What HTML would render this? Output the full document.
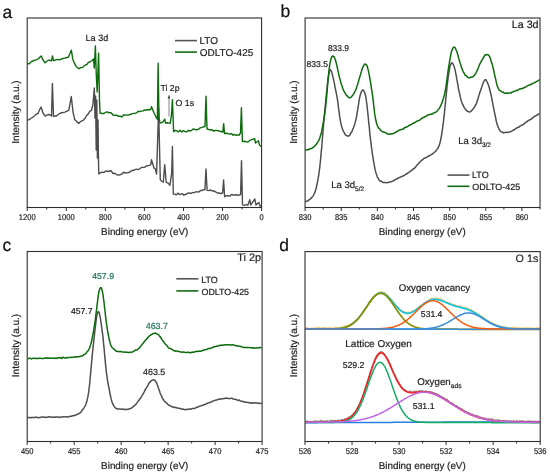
<!DOCTYPE html>
<html><head><meta charset="utf-8"><style>
html,body{margin:0;padding:0;background:#fff;width:550px;height:475px;overflow:hidden;}
svg{will-change:transform;}
svg text{font-family:'Liberation Sans',sans-serif;stroke-width:0.2px;text-rendering:geometricPrecision;}
</style></head><body>
<svg width="550" height="475" viewBox="0 0 550 475" style="position:absolute;left:0;top:0;font-family:'Liberation Sans',sans-serif">
<polyline points="27.5,120.4 29.3,119.3 31.2,118.3 33.0,117.0 34.7,115.7 36.3,114.1 38.0,113.5 39.5,110.0 41.0,107.0 43.0,113.0 45.2,116.2 48.0,114.5 49.8,114.7 51.5,116.0 52.4,83.4 53.5,116.5 55.0,115.9 56.5,116.0 58.0,114.5 59.7,113.5 61.3,112.8 63.0,112.5 64.9,112.1 66.9,111.2 68.8,110.3 71.3,96.5 73.0,112.0 74.7,119.6 76.8,121.6 78.9,123.4 80.4,121.6 82.0,120.9 83.5,120.1 85.0,118.5 86.6,115.6 88.2,114.1 89.9,111.2 91.5,110.3 93.0,104.0 94.3,88.0 95.0,118.0 95.6,96.0 96.2,150.0 96.8,100.0 97.4,158.0 98.0,120.0 98.5,162.0 98.8,174.0 99.8,173.2 101.9,172.1 104.0,172.5 106.0,170.9 108.0,171.5 109.5,171.0 111.0,170.7 113.0,173.5 114.9,173.2 116.8,174.7 118.7,175.0 120.3,174.7 121.9,174.0 123.5,172.2 125.2,173.0 126.8,172.8 128.4,172.5 130.0,172.0 131.7,170.5 133.3,170.5 135.0,169.7 136.7,169.2 138.3,169.7 140.0,168.5 141.5,167.5 143.1,167.4 144.6,167.4 146.1,166.0 147.6,165.8 149.2,165.4 150.7,164.8 151.5,159.8 154.0,168.0 155.0,168.3 156.6,174.0 158.6,108.0 160.3,180.0 161.8,181.2 163.3,182.3 164.7,164.6 166.2,182.3 168.1,183.1 169.9,185.3 171.7,172.7 172.4,146.5 173.3,194.1 174.8,194.1 176.3,194.9 177.8,193.1 179.3,194.6 180.8,194.1 182.3,193.6 183.8,195.2 185.3,194.5 186.8,194.0 188.3,192.9 189.8,193.3 191.3,193.3 192.8,192.5 194.3,192.6 195.9,191.8 197.4,191.9 198.9,192.0 200.4,190.4 201.9,190.5 203.4,189.8 204.9,189.7 206.0,169.0 207.1,190.4 208.7,190.6 210.4,190.0 212.0,190.8 213.8,191.0 215.6,191.8 217.4,193.0 219.2,193.0 220.9,193.7 222.6,193.0 223.6,180.0 224.6,196.7 226.3,195.6 228.1,195.7 229.8,196.2 231.5,194.4 233.3,195.0 235.0,195.0 236.9,194.8 238.7,195.4 240.6,194.5 241.5,160.6 242.5,204.8 244.3,205.3 246.2,204.7 248.0,205.0 249.8,199.7 250.8,205.0 252.8,201.8 254.8,199.0 256.0,205.0 257.5,203.6 259.0,202.6 260.0,206.0 261.5,206.0" fill="none" stroke="#4d4d4d" stroke-width="1.4" stroke-linejoin="round"/>
<polyline points="27.5,63.7 29.3,63.7 31.2,61.6 33.0,61.0 34.7,60.2 36.3,59.9 38.0,59.0 39.6,57.4 41.3,56.0 43.0,60.0 45.0,62.8 46.5,61.5 48.0,60.5 49.8,60.1 51.5,61.0 52.4,56.0 53.5,60.5 55.0,60.2 56.5,59.6 58.0,59.5 59.7,59.9 61.3,59.2 63.0,58.5 64.6,58.1 66.2,57.8 68.5,57.0 71.3,50.2 73.0,60.0 75.5,65.4 77.2,67.5 78.9,68.7 80.6,67.6 82.3,67.5 84.0,66.0 85.5,65.0 87.0,64.4 88.5,62.2 90.0,62.0 92.3,60.3 93.5,59.0 94.3,68.0 95.4,45.9 96.3,75.0 97.2,92.0 98.6,53.3 99.5,100.0 100.0,113.0 102.0,113.5 104.0,113.5 105.7,112.3 107.3,111.8 109.0,112.8 111.0,112.6 113.0,115.0 114.9,115.3 116.8,115.3 118.7,116.3 120.3,116.1 121.9,117.1 123.5,115.0 125.2,114.9 126.8,115.1 128.4,115.1 130.0,114.5 131.7,113.9 133.3,113.4 135.0,113.4 136.7,112.8 138.3,111.4 140.0,111.5 141.5,111.1 143.1,110.9 144.6,109.9 146.1,110.4 147.6,109.4 149.2,110.2 150.7,109.3 151.5,106.7 154.0,113.0 155.7,116.3 157.4,119.4 158.1,63.1 159.0,118.0 160.0,123.2 161.5,122.7 163.0,122.0 164.8,119.0 165.5,123.0 167.1,122.7 168.6,123.1 170.2,123.2 171.5,115.0 172.4,99.6 173.6,131.6 175.2,130.4 176.9,130.9 178.5,131.8 180.1,130.3 181.7,132.1 183.4,130.6 185.0,131.6 186.7,131.7 188.3,130.4 190.0,131.0 191.7,130.3 193.3,128.9 195.0,129.5 196.8,129.7 198.5,129.3 200.2,127.9 202.0,127.4 203.5,126.8 205.0,126.5 206.0,96.3 207.0,129.0 208.5,129.4 210.0,130.0 211.7,129.6 213.3,131.0 215.0,130.5 217.0,130.4 219.0,131.0 220.9,131.5 222.8,132.0 223.7,123.6 224.5,133.5 226.3,133.3 228.2,133.6 230.0,134.2 231.5,133.6 233.1,135.2 234.6,134.5 236.1,135.3 237.7,134.9 239.2,135.0 240.5,133.0 241.4,107.7 242.4,141.6 244.3,141.3 246.1,141.7 248.0,142.0 249.8,140.5 251.4,139.5 253.1,139.2 254.7,138.6 255.5,143.0 258.4,140.8 259.5,145.0 261.5,146.7" fill="none" stroke="#0c6c0c" stroke-width="1.4" stroke-linejoin="round"/>
<rect x="27.2" y="18.0" width="234.40000000000003" height="189.5" fill="none" stroke="#2e2e2e" stroke-width="1.1"/>
<line x1="27.20" y1="207.5" x2="27.20" y2="211.0" stroke="#2e2e2e" stroke-width="1.0"/>
<text x="27.20" y="219.9" font-size="8.4" text-anchor="middle" fill="#222" stroke="#222" textLength="16.82" lengthAdjust="spacingAndGlyphs">1200</text>
<line x1="46.73" y1="207.5" x2="46.73" y2="209.5" stroke="#2e2e2e" stroke-width="1.0"/>
<line x1="66.27" y1="207.5" x2="66.27" y2="211.0" stroke="#2e2e2e" stroke-width="1.0"/>
<text x="66.27" y="219.9" font-size="8.4" text-anchor="middle" fill="#222" stroke="#222" textLength="16.82" lengthAdjust="spacingAndGlyphs">1000</text>
<line x1="85.80" y1="207.5" x2="85.80" y2="209.5" stroke="#2e2e2e" stroke-width="1.0"/>
<line x1="105.33" y1="207.5" x2="105.33" y2="211.0" stroke="#2e2e2e" stroke-width="1.0"/>
<text x="105.33" y="219.9" font-size="8.4" text-anchor="middle" fill="#222" stroke="#222" textLength="12.61" lengthAdjust="spacingAndGlyphs">800</text>
<line x1="124.87" y1="207.5" x2="124.87" y2="209.5" stroke="#2e2e2e" stroke-width="1.0"/>
<line x1="144.40" y1="207.5" x2="144.40" y2="211.0" stroke="#2e2e2e" stroke-width="1.0"/>
<text x="144.40" y="219.9" font-size="8.4" text-anchor="middle" fill="#222" stroke="#222" textLength="12.61" lengthAdjust="spacingAndGlyphs">600</text>
<line x1="163.93" y1="207.5" x2="163.93" y2="209.5" stroke="#2e2e2e" stroke-width="1.0"/>
<line x1="183.47" y1="207.5" x2="183.47" y2="211.0" stroke="#2e2e2e" stroke-width="1.0"/>
<text x="183.47" y="219.9" font-size="8.4" text-anchor="middle" fill="#222" stroke="#222" textLength="12.61" lengthAdjust="spacingAndGlyphs">400</text>
<line x1="203.00" y1="207.5" x2="203.00" y2="209.5" stroke="#2e2e2e" stroke-width="1.0"/>
<line x1="222.53" y1="207.5" x2="222.53" y2="211.0" stroke="#2e2e2e" stroke-width="1.0"/>
<text x="222.53" y="219.9" font-size="8.4" text-anchor="middle" fill="#222" stroke="#222" textLength="12.61" lengthAdjust="spacingAndGlyphs">200</text>
<line x1="242.07" y1="207.5" x2="242.07" y2="209.5" stroke="#2e2e2e" stroke-width="1.0"/>
<line x1="261.60" y1="207.5" x2="261.60" y2="211.0" stroke="#2e2e2e" stroke-width="1.0"/>
<text x="261.60" y="219.9" font-size="8.4" text-anchor="middle" fill="#222" stroke="#222" textLength="4.21" lengthAdjust="spacingAndGlyphs">0</text>
<text x="101.11" y="235.0" font-size="9.87" fill="#222" stroke="#222">Binding energy (eV)</text>
<text transform="translate(18.8,112) rotate(-90)" font-size="10" text-anchor="middle" fill="#222" stroke="#222">Intensity (a.u.)</text>
<text x="2.51" y="17.5" font-size="17.50" fill="#111" stroke="#111">a</text>
<text x="85.57" y="41.2" font-size="9.07" fill="#222" stroke="#222">La 3d</text>
<text x="160.48" y="91.2" font-size="8.73" fill="#222" stroke="#222">Ti 2p</text>
<text x="175.50" y="105.5" font-size="8.82" fill="#222" stroke="#222">O 1s</text>
<line x1="169" y1="97" x2="169" y2="116.5" stroke="#666" stroke-width="0.8"/>
<path d="M167.6,98.5 L169,94.5 L170.4,98.5 Z" fill="#444"/>
<line x1="175" y1="40.6" x2="197" y2="40.6" stroke="#555" stroke-width="1.6"/>
<line x1="175" y1="52.1" x2="197" y2="52.1" stroke="#136b13" stroke-width="1.6"/>
<text x="199.50" y="43.9" font-size="10.00" fill="#222" stroke="#222">LTO</text>
<text x="199.85" y="56.2" font-size="9.97" fill="#222" stroke="#222">ODLTO-425</text>
<polyline points="305.6,201.6 305.9,201.4 306.3,201.3 306.6,201.3 306.9,201.3 307.3,201.1 307.6,200.9 307.9,200.8 308.3,200.6 308.6,200.2 308.9,199.9 309.3,199.6 309.6,199.4 310.0,199.3 310.3,199.1 310.6,198.8 311.0,198.4 311.3,198.1 311.6,197.7 312.0,197.2 312.3,196.8 312.6,196.4 313.0,196.0 313.3,195.6 313.6,195.0 314.0,194.3 314.3,193.5 314.6,192.8 315.0,191.9 315.3,191.0 315.6,189.9 316.0,188.8 316.3,187.6 316.6,186.2 317.0,184.6 317.3,182.8 317.6,181.1 318.0,179.4 318.3,177.5 318.7,175.3 319.0,173.0 319.3,170.5 319.7,167.8 320.0,164.9 320.3,161.8 320.7,158.5 321.0,154.9 321.3,151.3 321.7,147.6 322.0,143.7 322.3,139.7 322.7,135.4 323.0,131.0 323.3,126.9 323.7,123.1 324.0,119.4 324.3,115.8 324.7,112.2 325.0,108.5 325.3,105.0 325.7,101.8 326.0,98.5 326.3,95.1 326.7,91.7 327.0,88.2 327.4,85.0 327.7,82.0 328.0,79.2 328.4,76.9 328.7,74.9 329.0,73.3 329.4,71.9 329.7,70.8 330.0,70.1 330.4,69.8 330.7,69.9 331.0,70.4 331.4,71.1 331.7,72.1 332.0,73.3 332.4,74.5 332.7,75.8 333.0,77.2 333.4,78.7 333.7,80.1 334.0,81.7 334.4,83.5 334.7,85.3 335.0,87.1 335.4,88.7 335.7,90.5 336.1,92.2 336.4,93.7 336.7,95.3 337.1,97.1 337.4,99.1 337.7,101.4 338.1,104.1 338.4,106.9 338.7,109.5 339.1,111.9 339.4,114.4 339.7,116.9 340.1,119.0 340.4,120.9 340.7,122.5 341.1,124.1 341.4,125.6 341.7,126.8 342.1,127.8 342.4,128.7 342.7,129.6 343.1,130.5 343.4,131.2 343.7,131.8 344.1,132.4 344.4,133.0 344.8,133.6 345.1,134.3 345.4,134.8 345.8,135.1 346.1,135.4 346.4,135.5 346.8,135.6 347.1,135.9 347.4,136.1 347.8,136.1 348.1,136.0 348.4,136.0 348.8,135.9 349.1,135.8 349.4,135.5 349.8,135.1 350.1,134.6 350.4,133.9 350.8,133.2 351.1,132.7 351.4,132.3 351.8,131.8 352.1,131.1 352.4,130.3 352.8,129.4 353.1,128.6 353.5,127.7 353.8,126.8 354.1,126.0 354.5,125.0 354.8,123.9 355.1,122.6 355.5,121.2 355.8,119.9 356.1,118.6 356.5,117.0 356.8,115.1 357.1,113.1 357.5,111.0 357.8,109.0 358.1,106.9 358.5,104.7 358.8,102.6 359.1,100.6 359.5,98.7 359.8,96.9 360.1,95.5 360.5,94.3 360.8,93.3 361.1,92.4 361.5,91.7 361.8,91.1 362.2,90.5 362.5,90.1 362.8,90.0 363.2,90.0 363.5,90.3 363.8,90.8 364.2,91.5 364.5,92.1 364.8,92.9 365.2,94.0 365.5,95.4 365.8,97.0 366.2,99.1 366.5,101.5 366.8,104.1 367.2,107.0 367.5,110.0 367.8,113.2 368.2,116.5 368.5,119.9 368.8,123.2 369.2,126.4 369.5,129.8 369.8,133.3 370.2,136.6 370.5,139.6 370.9,142.2 371.2,144.8 371.5,147.4 371.9,150.0 372.2,152.4 372.5,154.6 372.9,156.8 373.2,158.8 373.5,160.8 373.9,162.8 374.2,164.7 374.5,166.6 374.9,168.4 375.2,169.9 375.5,171.2 375.9,172.4 376.2,173.5 376.5,174.5 376.9,175.6 377.2,176.7 377.5,177.5 377.9,178.0 378.2,178.4 378.5,178.9 378.9,179.6 379.2,180.2 379.6,180.7 379.9,180.8 380.2,180.8 380.6,180.9 380.9,181.2 381.2,181.4 381.6,181.5 381.9,181.7 382.2,181.9 382.6,182.3 382.9,182.5 383.2,182.5 383.6,182.5 383.9,182.5 384.2,182.5 384.6,182.5 384.9,182.4 385.2,182.4 385.6,182.5 385.9,182.7 386.2,182.8 386.6,182.8 386.9,182.7 387.2,182.5 387.6,182.4 387.9,182.5 388.3,182.5 388.6,182.5 388.9,182.4 389.3,182.2 389.6,182.0 389.9,181.9 390.3,181.9 390.6,181.8 390.9,181.7 391.3,181.7 391.6,181.7 391.9,181.5 392.3,181.2 392.6,181.0 392.9,180.9 393.3,180.9 393.6,180.8 393.9,180.6 394.3,180.2 394.6,179.9 394.9,179.7 395.3,179.6 395.6,179.5 395.9,179.4 396.3,179.3 396.6,179.0 397.0,178.8 397.3,178.5 397.6,178.4 398.0,178.3 398.3,178.1 398.6,177.9 399.0,177.7 399.3,177.5 399.6,177.4 400.0,177.4 400.3,177.2 400.6,177.0 401.0,176.8 401.3,176.6 401.6,176.5 402.0,176.5 402.3,176.4 402.6,176.3 403.0,176.0 403.3,175.8 403.6,175.6 404.0,175.4 404.3,175.3 404.6,175.1 405.0,174.9 405.3,174.7 405.7,174.4 406.0,174.2 406.3,174.1 406.7,174.0 407.0,173.6 407.3,173.3 407.7,173.1 408.0,172.9 408.3,172.6 408.7,172.4 409.0,172.3 409.3,172.1 409.7,171.8 410.0,171.5 410.3,171.2 410.7,171.1 411.0,170.9 411.3,170.7 411.7,170.5 412.0,170.2 412.3,170.0 412.7,169.6 413.0,169.2 413.3,168.8 413.7,168.6 414.0,168.5 414.4,168.3 414.7,167.9 415.0,167.6 415.4,167.2 415.7,166.9 416.0,166.5 416.4,165.9 416.7,165.3 417.0,164.9 417.4,164.7 417.7,164.5 418.0,164.2 418.4,163.7 418.7,163.2 419.0,162.9 419.4,162.6 419.7,162.1 420.0,161.8 420.4,161.6 420.7,161.3 421.0,160.9 421.4,160.5 421.7,160.1 422.0,160.0 422.4,159.9 422.7,159.7 423.1,159.2 423.4,158.8 423.7,158.5 424.1,158.4 424.4,158.3 424.7,158.1 425.1,157.9 425.4,157.7 425.7,157.6 426.1,157.6 426.4,157.6 426.7,157.4 427.1,157.0 427.4,156.7 427.7,156.5 428.1,156.3 428.4,156.1 428.7,155.9 429.1,155.8 429.4,155.8 429.7,155.6 430.1,155.4 430.4,155.2 430.7,154.9 431.1,154.7 431.4,154.5 431.8,154.4 432.1,154.2 432.4,153.9 432.8,153.6 433.1,153.3 433.4,153.1 433.8,152.8 434.1,152.5 434.4,152.2 434.8,152.0 435.1,151.8 435.4,151.5 435.8,151.1 436.1,150.7 436.4,150.2 436.8,149.8 437.1,149.4 437.4,148.9 437.8,148.4 438.1,147.8 438.4,147.2 438.8,146.4 439.1,145.5 439.4,144.5 439.8,143.4 440.1,142.2 440.5,140.8 440.8,139.3 441.1,137.5 441.5,135.6 441.8,133.6 442.1,131.5 442.5,129.1 442.8,126.6 443.1,123.9 443.5,121.4 443.8,118.7 444.1,115.8 444.5,112.6 444.8,109.3 445.1,106.1 445.5,102.7 445.8,99.1 446.1,95.7 446.5,92.2 446.8,88.9 447.1,85.8 447.5,82.9 447.8,80.1 448.1,77.6 448.5,75.4 448.8,73.2 449.2,71.0 449.5,69.0 449.8,67.3 450.2,66.0 450.5,65.0 450.8,64.2 451.2,63.5 451.5,63.0 451.8,62.8 452.2,62.8 452.5,63.2 452.8,63.7 453.2,64.3 453.5,65.0 453.8,65.7 454.2,66.6 454.5,67.6 454.8,68.9 455.2,70.4 455.5,72.1 455.8,73.7 456.2,75.4 456.5,77.3 456.8,79.2 457.2,81.1 457.5,83.0 457.9,85.1 458.2,87.1 458.5,88.8 458.9,90.4 459.2,92.0 459.5,93.4 459.9,94.8 460.2,96.3 460.5,97.9 460.9,99.3 461.2,100.6 461.5,101.6 461.9,102.4 462.2,103.2 462.5,103.9 462.9,104.6 463.2,105.4 463.5,106.2 463.9,106.8 464.2,107.3 464.5,107.8 464.9,108.4 465.2,108.9 465.5,109.4 465.9,109.8 466.2,110.1 466.6,110.4 466.9,110.8 467.2,111.2 467.6,111.4 467.9,111.4 468.2,111.5 468.6,111.7 468.9,111.8 469.2,111.8 469.6,112.0 469.9,112.0 470.2,111.8 470.6,111.6 470.9,111.4 471.2,111.2 471.6,110.8 471.9,110.3 472.2,109.9 472.6,109.6 472.9,109.2 473.2,108.8 473.6,108.3 473.9,107.8 474.2,107.3 474.6,106.8 474.9,106.3 475.3,105.6 475.6,105.0 475.9,104.5 476.3,103.9 476.6,103.0 476.9,101.9 477.3,100.9 477.6,99.8 477.9,98.7 478.3,97.5 478.6,96.5 478.9,95.5 479.3,94.3 479.6,93.2 479.9,92.2 480.3,91.4 480.6,90.5 480.9,89.5 481.3,88.6 481.6,87.6 481.9,86.5 482.3,85.5 482.6,84.4 482.9,83.4 483.3,82.7 483.6,82.0 484.0,81.3 484.3,80.6 484.6,80.2 485.0,79.9 485.3,79.7 485.6,79.6 486.0,79.8 486.3,80.4 486.6,81.1 487.0,81.7 487.3,82.3 487.6,83.1 488.0,83.9 488.3,84.7 488.6,85.6 489.0,86.7 489.3,87.8 489.6,89.0 490.0,90.3 490.3,91.8 490.6,93.3 491.0,94.7 491.3,96.1 491.6,97.6 492.0,99.4 492.3,101.3 492.7,103.2 493.0,104.9 493.3,106.5 493.7,108.1 494.0,109.9 494.3,111.6 494.7,113.2 495.0,114.8 495.3,116.3 495.7,118.0 496.0,119.7 496.3,121.4 496.7,122.9 497.0,124.1 497.3,125.0 497.7,125.7 498.0,126.5 498.3,127.4 498.7,128.2 499.0,128.9 499.3,129.5 499.7,130.0 500.0,130.6 500.3,131.1 500.7,131.5 501.0,131.7 501.4,131.9 501.7,132.0 502.0,132.0 502.4,132.1 502.7,132.4 503.0,132.8 503.4,132.9 503.7,132.8 504.0,132.7 504.4,132.6 504.7,132.5 505.0,132.5 505.4,132.4 505.7,132.4 506.0,132.3 506.4,132.3 506.7,132.2 507.0,132.2 507.4,132.4 507.7,132.5 508.0,132.4 508.4,132.3 508.7,132.2 509.0,132.0 509.4,131.9 509.7,131.8 510.1,131.8 510.4,131.7 510.7,131.6 511.1,131.4 511.4,131.2 511.7,131.0 512.1,130.8 512.4,130.6 512.7,130.3 513.1,130.1 513.4,130.0 513.7,130.0 514.1,129.9 514.4,129.7 514.7,129.4 515.1,129.1 515.4,128.9 515.7,128.7 516.1,128.5 516.4,128.2 516.7,127.9 517.1,127.7 517.4,127.6 517.7,127.6 518.1,127.6 518.4,127.5 518.8,127.3 519.1,126.9 519.4,126.5 519.8,126.2 520.1,126.0 520.4,125.9 520.8,125.8 521.1,125.5 521.4,125.3 521.8,125.2 522.1,125.1 522.4,124.9 522.8,124.7 523.1,124.5 523.4,124.4 523.8,124.2 524.1,123.9 524.4,123.6 524.8,123.2 525.1,122.9 525.4,122.6 525.8,122.5 526.1,122.3 526.4,122.1 526.8,121.9 527.1,121.6 527.5,121.2 527.8,120.9 528.1,120.7 528.5,120.6 528.8,120.4 529.1,120.2 529.5,120.0 529.8,119.8 530.1,119.7 530.5,119.6 530.8,119.5 531.1,119.3 531.5,118.9 531.8,118.5 532.1,118.2 532.5,118.0 532.8,117.8 533.1,117.5 533.5,117.3 533.8,117.0 534.1,116.7 534.5,116.4 534.8,116.1 535.1,116.0 535.5,115.9 535.8,115.8 536.2,115.6 536.5,115.3 536.8,115.2 537.2,115.1 537.5,115.0 537.8,114.7 538.2,114.4 538.5,114.2 538.8,113.9 539.2,113.7 539.5,113.5" fill="none" stroke="#4d4d4d" stroke-width="1.5" stroke-linejoin="round"/>
<polyline points="305.6,150.3 305.9,150.1 306.3,150.0 306.6,149.9 306.9,149.8 307.3,149.7 307.6,149.8 307.9,149.8 308.3,149.7 308.6,149.4 308.9,149.3 309.3,149.3 309.6,149.1 310.0,148.8 310.3,148.6 310.6,148.5 311.0,148.5 311.3,148.5 311.6,148.5 312.0,148.3 312.3,148.0 312.6,147.7 313.0,147.6 313.3,147.5 313.6,147.2 314.0,146.8 314.3,146.4 314.6,146.1 315.0,145.6 315.3,145.3 315.6,145.0 316.0,144.6 316.3,144.2 316.6,143.7 317.0,143.3 317.3,142.8 317.6,142.3 318.0,141.7 318.3,141.2 318.7,140.6 319.0,139.9 319.3,139.1 319.7,138.2 320.0,137.2 320.3,136.1 320.7,135.1 321.0,134.1 321.3,132.9 321.7,131.4 322.0,129.7 322.3,127.9 322.7,126.1 323.0,124.3 323.3,122.4 323.7,120.4 324.0,118.4 324.3,116.3 324.7,114.1 325.0,111.7 325.3,109.1 325.7,106.3 326.0,103.3 326.3,99.9 326.7,96.1 327.0,91.9 327.4,87.8 327.7,83.9 328.0,80.1 328.4,76.4 328.7,73.1 329.0,70.1 329.4,67.4 329.7,65.0 330.0,63.0 330.4,61.4 330.7,59.9 331.0,58.7 331.4,57.7 331.7,57.0 332.0,56.5 332.4,56.2 332.7,55.9 333.0,56.0 333.4,56.3 333.7,56.6 334.0,56.9 334.4,57.5 334.7,58.1 335.0,59.0 335.4,59.9 335.7,61.0 336.1,62.2 336.4,63.6 336.7,65.0 337.1,66.5 337.4,68.0 337.7,69.5 338.1,71.2 338.4,72.7 338.7,74.2 339.1,75.7 339.4,77.1 339.7,78.4 340.1,79.5 340.4,80.7 340.7,82.0 341.1,83.3 341.4,84.2 341.7,85.0 342.1,86.0 342.4,87.1 342.7,88.2 343.1,89.1 343.4,89.9 343.7,90.7 344.1,91.4 344.4,92.1 344.8,92.6 345.1,93.1 345.4,93.7 345.8,94.3 346.1,94.8 346.4,95.3 346.8,95.6 347.1,95.9 347.4,96.2 347.8,96.4 348.1,96.8 348.4,97.2 348.8,97.6 349.1,97.8 349.4,97.8 349.8,97.8 350.1,97.7 350.4,97.6 350.8,97.5 351.1,97.2 351.4,96.8 351.8,96.4 352.1,96.0 352.4,95.6 352.8,95.2 353.1,94.7 353.5,94.2 353.8,93.6 354.1,93.0 354.5,92.4 354.8,91.8 355.1,91.2 355.5,90.5 355.8,89.8 356.1,88.9 356.5,87.8 356.8,86.7 357.1,85.7 357.5,84.8 357.8,83.8 358.1,82.7 358.5,81.5 358.8,80.2 359.1,79.1 359.5,78.0 359.8,76.9 360.1,75.8 360.5,74.7 360.8,73.6 361.1,72.4 361.5,71.2 361.8,69.9 362.2,68.9 362.5,67.9 362.8,67.3 363.2,66.6 363.5,65.9 363.8,65.2 364.2,64.7 364.5,64.3 364.8,64.1 365.2,64.1 365.5,64.2 365.8,64.4 366.2,64.6 366.5,64.8 366.8,65.4 367.2,66.2 367.5,67.3 367.8,68.5 368.2,69.9 368.5,71.3 368.8,72.9 369.2,74.7 369.5,76.6 369.8,78.5 370.2,80.4 370.5,82.3 370.9,84.5 371.2,86.8 371.5,89.1 371.9,91.1 372.2,93.0 372.5,95.3 372.9,97.9 373.2,100.6 373.5,103.5 373.9,106.5 374.2,109.7 374.5,112.5 374.9,115.0 375.2,117.0 375.5,118.8 375.9,120.4 376.2,121.8 376.5,123.0 376.9,124.1 377.2,125.2 377.5,126.0 377.9,126.6 378.2,127.1 378.5,127.7 378.9,128.2 379.2,128.6 379.6,128.9 379.9,129.3 380.2,129.8 380.6,130.1 380.9,130.3 381.2,130.6 381.6,131.0 381.9,131.3 382.2,131.6 382.6,131.7 382.9,131.9 383.2,131.9 383.6,131.9 383.9,132.0 384.2,132.1 384.6,132.3 384.9,132.4 385.2,132.5 385.6,132.7 385.9,132.9 386.2,133.2 386.6,133.4 386.9,133.7 387.2,133.8 387.6,133.8 387.9,134.0 388.3,134.3 388.6,134.3 388.9,134.2 389.3,134.1 389.6,134.1 389.9,134.1 390.3,134.1 390.6,134.2 390.9,134.1 391.3,133.9 391.6,133.8 391.9,133.7 392.3,133.7 392.6,133.7 392.9,133.8 393.3,133.7 393.6,133.5 393.9,133.3 394.3,133.1 394.6,132.9 394.9,132.7 395.3,132.6 395.6,132.4 395.9,132.3 396.3,132.1 396.6,131.7 397.0,131.5 397.3,131.3 397.6,131.2 398.0,131.1 398.3,130.9 398.6,130.5 399.0,130.1 399.3,129.9 399.6,129.9 400.0,130.0 400.3,130.0 400.6,129.8 401.0,129.5 401.3,129.4 401.6,129.4 402.0,129.3 402.3,129.2 402.6,129.2 403.0,129.2 403.3,128.9 403.6,128.6 404.0,128.3 404.3,128.1 404.6,127.7 405.0,127.5 405.3,127.3 405.7,127.2 406.0,127.2 406.3,127.2 406.7,127.1 407.0,126.8 407.3,126.5 407.7,126.4 408.0,126.3 408.3,126.1 408.7,125.8 409.0,125.4 409.3,125.2 409.7,125.1 410.0,125.1 410.3,124.9 410.7,124.7 411.0,124.5 411.3,124.5 411.7,124.3 412.0,124.0 412.3,123.7 412.7,123.5 413.0,123.4 413.3,123.3 413.7,123.0 414.0,122.9 414.4,122.8 414.7,122.6 415.0,122.4 415.4,122.2 415.7,122.0 416.0,121.7 416.4,121.5 416.7,121.3 417.0,121.1 417.4,121.0 417.7,121.0 418.0,120.9 418.4,120.7 418.7,120.5 419.0,120.4 419.4,120.3 419.7,120.1 420.0,119.8 420.4,119.5 420.7,119.2 421.0,118.9 421.4,118.6 421.7,118.4 422.0,118.2 422.4,117.9 422.7,117.6 423.1,117.5 423.4,117.5 423.7,117.5 424.1,117.4 424.4,117.1 424.7,116.8 425.1,116.5 425.4,116.4 425.7,116.4 426.1,116.3 426.4,116.1 426.7,115.8 427.1,115.3 427.4,115.1 427.7,114.9 428.1,115.0 428.4,115.0 428.7,114.9 429.1,114.7 429.4,114.7 429.7,114.6 430.1,114.4 430.4,114.2 430.7,114.1 431.1,114.1 431.4,114.2 431.8,114.2 432.1,114.1 432.4,114.0 432.8,113.8 433.1,113.4 433.4,113.1 433.8,112.9 434.1,112.8 434.4,112.7 434.8,112.6 435.1,112.4 435.4,112.2 435.8,112.1 436.1,112.0 436.4,111.8 436.8,111.5 437.1,111.2 437.4,110.6 437.8,110.1 438.1,109.6 438.4,109.3 438.8,109.0 439.1,108.6 439.4,108.1 439.8,107.4 440.1,106.8 440.5,106.2 440.8,105.4 441.1,104.6 441.5,103.9 441.8,103.1 442.1,102.3 442.5,101.4 442.8,100.3 443.1,99.3 443.5,98.3 443.8,97.1 444.1,95.8 444.5,94.5 444.8,93.1 445.1,91.5 445.5,89.7 445.8,87.6 446.1,85.4 446.5,83.0 446.8,80.7 447.1,78.3 447.5,75.7 447.8,73.1 448.1,70.5 448.5,68.1 448.8,65.9 449.2,63.9 449.5,61.9 449.8,60.0 450.2,58.2 450.5,56.4 450.8,54.6 451.2,52.9 451.5,51.5 451.8,50.5 452.2,49.6 452.5,48.9 452.8,48.3 453.2,47.8 453.5,47.5 453.8,47.2 454.2,47.1 454.5,47.2 454.8,47.5 455.2,47.9 455.5,48.5 455.8,49.3 456.2,50.0 456.5,50.8 456.8,51.6 457.2,52.7 457.5,53.9 457.9,55.1 458.2,56.3 458.5,57.4 458.9,58.6 459.2,59.9 459.5,61.1 459.9,62.2 460.2,63.2 460.5,64.1 460.9,65.2 461.2,66.4 461.5,67.6 461.9,68.4 462.2,69.2 462.5,70.0 462.9,71.0 463.2,71.8 463.5,72.3 463.9,72.7 464.2,73.3 464.5,74.0 464.9,74.8 465.2,75.2 465.5,75.5 465.9,75.7 466.2,75.9 466.6,76.2 466.9,76.5 467.2,76.8 467.6,77.2 467.9,77.5 468.2,77.7 468.6,77.7 468.9,77.6 469.2,77.6 469.6,77.7 469.9,77.6 470.2,77.5 470.6,77.4 470.9,77.3 471.2,77.1 471.6,76.9 471.9,76.9 472.2,77.0 472.6,77.0 472.9,76.7 473.2,76.3 473.6,76.0 473.9,75.7 474.2,75.4 474.6,75.1 474.9,74.7 475.3,74.1 475.6,73.4 475.9,72.9 476.3,72.3 476.6,71.6 476.9,70.8 477.3,70.1 477.6,69.4 477.9,68.7 478.3,67.8 478.6,67.0 478.9,66.1 479.3,65.2 479.6,64.5 479.9,63.8 480.3,63.0 480.6,62.3 480.9,61.8 481.3,61.4 481.6,60.8 481.9,60.2 482.3,59.6 482.6,59.0 482.9,58.5 483.3,58.0 483.6,57.4 484.0,56.7 484.3,56.0 484.6,55.5 485.0,55.1 485.3,54.8 485.6,54.9 486.0,54.8 486.3,54.6 486.6,54.5 487.0,54.6 487.3,54.8 487.6,54.8 488.0,54.8 488.3,54.9 488.6,55.2 489.0,55.5 489.3,56.1 489.6,56.9 490.0,57.6 490.3,58.5 490.6,59.5 491.0,60.6 491.3,61.6 491.6,62.6 492.0,63.6 492.3,64.8 492.7,66.1 493.0,67.5 493.3,68.8 493.7,70.2 494.0,71.8 494.3,73.5 494.7,75.1 495.0,76.5 495.3,77.8 495.7,79.2 496.0,80.6 496.3,82.1 496.7,83.8 497.0,85.1 497.3,86.1 497.7,86.9 498.0,87.7 498.3,88.5 498.7,89.2 499.0,89.8 499.3,90.2 499.7,90.5 500.0,90.7 500.3,90.9 500.7,91.0 501.0,91.2 501.4,91.4 501.7,91.7 502.0,91.9 502.4,92.1 502.7,92.2 503.0,92.2 503.4,92.3 503.7,92.6 504.0,92.9 504.4,93.2 504.7,93.2 505.0,93.2 505.4,93.2 505.7,93.2 506.0,93.1 506.4,93.1 506.7,93.1 507.0,93.4 507.4,93.5 507.7,93.3 508.0,93.2 508.4,93.1 508.7,93.0 509.0,92.9 509.4,92.9 509.7,93.0 510.1,93.1 510.4,93.1 510.7,93.0 511.1,92.9 511.4,92.6 511.7,92.2 512.1,92.0 512.4,91.9 512.7,91.9 513.1,91.9 513.4,91.7 513.7,91.5 514.1,91.3 514.4,91.1 514.7,91.0 515.1,91.0 515.4,91.0 515.7,90.8 516.1,90.6 516.4,90.4 516.7,90.3 517.1,90.4 517.4,90.5 517.7,90.5 518.1,90.2 518.4,89.8 518.8,89.5 519.1,89.2 519.4,89.0 519.8,88.9 520.1,88.9 520.4,88.9 520.8,88.8 521.1,88.6 521.4,88.4 521.8,88.4 522.1,88.4 522.4,88.4 522.8,88.4 523.1,88.2 523.4,88.0 523.8,87.8 524.1,87.7 524.4,87.6 524.8,87.3 525.1,87.2 525.4,87.1 525.8,87.0 526.1,86.8 526.4,86.5 526.8,86.2 527.1,86.0 527.5,85.7 527.8,85.5 528.1,85.4 528.5,85.3 528.8,85.2 529.1,85.1 529.5,85.0 529.8,85.1 530.1,85.0 530.5,84.7 530.8,84.4 531.1,84.2 531.5,84.0 531.8,83.8 532.1,83.7 532.5,83.7 532.8,83.6 533.1,83.3 533.5,83.1 533.8,83.0 534.1,82.8 534.5,82.6 534.8,82.4 535.1,82.3 535.5,82.2 535.8,81.9 536.2,81.7 536.5,81.5 536.8,81.4 537.2,81.3 537.5,81.1 537.8,80.8 538.2,80.6 538.5,80.4 538.8,80.2 539.2,79.9 539.5,79.9" fill="none" stroke="#0c6c0c" stroke-width="1.5" stroke-linejoin="round"/>
<rect x="305.1" y="18.0" width="234.89999999999998" height="189.5" fill="none" stroke="#2e2e2e" stroke-width="1.1"/>
<line x1="305.10" y1="207.5" x2="305.10" y2="211.0" stroke="#2e2e2e" stroke-width="1.0"/>
<text x="305.10" y="219.9" font-size="8.4" text-anchor="middle" fill="#222" stroke="#222" textLength="12.61" lengthAdjust="spacingAndGlyphs">830</text>
<line x1="323.17" y1="207.5" x2="323.17" y2="209.5" stroke="#2e2e2e" stroke-width="1.0"/>
<line x1="341.24" y1="207.5" x2="341.24" y2="211.0" stroke="#2e2e2e" stroke-width="1.0"/>
<text x="341.24" y="219.9" font-size="8.4" text-anchor="middle" fill="#222" stroke="#222" textLength="12.61" lengthAdjust="spacingAndGlyphs">835</text>
<line x1="359.31" y1="207.5" x2="359.31" y2="209.5" stroke="#2e2e2e" stroke-width="1.0"/>
<line x1="377.38" y1="207.5" x2="377.38" y2="211.0" stroke="#2e2e2e" stroke-width="1.0"/>
<text x="377.38" y="219.9" font-size="8.4" text-anchor="middle" fill="#222" stroke="#222" textLength="12.61" lengthAdjust="spacingAndGlyphs">840</text>
<line x1="395.45" y1="207.5" x2="395.45" y2="209.5" stroke="#2e2e2e" stroke-width="1.0"/>
<line x1="413.52" y1="207.5" x2="413.52" y2="211.0" stroke="#2e2e2e" stroke-width="1.0"/>
<text x="413.52" y="219.9" font-size="8.4" text-anchor="middle" fill="#222" stroke="#222" textLength="12.61" lengthAdjust="spacingAndGlyphs">845</text>
<line x1="431.58" y1="207.5" x2="431.58" y2="209.5" stroke="#2e2e2e" stroke-width="1.0"/>
<line x1="449.65" y1="207.5" x2="449.65" y2="211.0" stroke="#2e2e2e" stroke-width="1.0"/>
<text x="449.65" y="219.9" font-size="8.4" text-anchor="middle" fill="#222" stroke="#222" textLength="12.61" lengthAdjust="spacingAndGlyphs">850</text>
<line x1="467.72" y1="207.5" x2="467.72" y2="209.5" stroke="#2e2e2e" stroke-width="1.0"/>
<line x1="485.79" y1="207.5" x2="485.79" y2="211.0" stroke="#2e2e2e" stroke-width="1.0"/>
<text x="485.79" y="219.9" font-size="8.4" text-anchor="middle" fill="#222" stroke="#222" textLength="12.61" lengthAdjust="spacingAndGlyphs">855</text>
<line x1="503.86" y1="207.5" x2="503.86" y2="209.5" stroke="#2e2e2e" stroke-width="1.0"/>
<line x1="521.93" y1="207.5" x2="521.93" y2="211.0" stroke="#2e2e2e" stroke-width="1.0"/>
<text x="521.93" y="219.9" font-size="8.4" text-anchor="middle" fill="#222" stroke="#222" textLength="12.61" lengthAdjust="spacingAndGlyphs">860</text>
<line x1="540.00" y1="207.5" x2="540.00" y2="209.5" stroke="#2e2e2e" stroke-width="1.0"/>
<text x="378.71" y="235.0" font-size="9.86" fill="#222" stroke="#222">Binding energy (eV)</text>
<text transform="translate(296.6,112) rotate(-90)" font-size="10" text-anchor="middle" fill="#222" stroke="#222">Intensity (a.u.)</text>
<text x="280.46" y="17.0" font-size="17.50" fill="#111" stroke="#111">b</text>
<text x="511.85" y="28" font-size="10.68" fill="#222" stroke="#222">La 3d</text>
<text x="327.92" y="50.5" font-size="8.46" fill="#222" stroke="#222">833.9</text>
<text x="306.51" y="67" font-size="8.61" fill="#222" stroke="#222">833.5</text>
<text x="331.13" y="188.2" font-size="9.58" fill="#222" stroke="#222">La 3d<tspan font-size="6.51" dy="2.87">5/2</tspan></text>
<text x="458.24" y="144" font-size="9.49" fill="#222" stroke="#222">La 3d<tspan font-size="6.45" dy="2.85">3/2</tspan></text>
<line x1="447.5" y1="175.1" x2="469.5" y2="175.1" stroke="#555" stroke-width="1.6"/>
<line x1="447.5" y1="186.3" x2="469.5" y2="186.3" stroke="#136b13" stroke-width="1.6"/>
<text x="471.98" y="178.4" font-size="9.00" fill="#222" stroke="#222">LTO</text>
<text x="472.30" y="190.4" font-size="8.96" fill="#222" stroke="#222">ODLTO-425</text>
<polyline points="27.6,417.2 27.9,417.4 28.3,417.5 28.6,417.4 28.9,417.4 29.3,417.6 29.6,417.7 29.9,417.7 30.3,417.6 30.6,417.5 30.9,417.5 31.3,417.7 31.6,417.7 32.0,417.6 32.3,417.5 32.6,417.5 33.0,417.5 33.3,417.6 33.6,417.5 34.0,417.3 34.3,417.4 34.6,417.5 35.0,417.5 35.3,417.4 35.6,417.3 36.0,417.2 36.3,417.1 36.6,417.1 37.0,417.3 37.3,417.4 37.6,417.5 38.0,417.6 38.3,417.7 38.7,417.7 39.0,417.7 39.3,417.6 39.7,417.5 40.0,417.5 40.3,417.4 40.7,417.3 41.0,417.2 41.3,417.1 41.7,417.0 42.0,417.1 42.3,417.1 42.7,417.1 43.0,417.0 43.3,417.1 43.7,417.2 44.0,417.2 44.3,417.2 44.7,417.2 45.0,417.2 45.4,417.2 45.7,417.3 46.0,417.3 46.4,417.3 46.7,417.3 47.0,417.3 47.4,417.2 47.7,417.3 48.0,417.1 48.4,416.9 48.7,416.8 49.0,416.8 49.4,416.8 49.7,416.9 50.0,417.0 50.4,417.0 50.7,417.1 51.0,417.1 51.4,417.2 51.7,417.2 52.0,417.3 52.4,417.4 52.7,417.3 53.1,417.1 53.4,417.0 53.7,417.1 54.1,417.1 54.4,417.2 54.7,417.1 55.1,417.1 55.4,417.2 55.7,417.1 56.1,417.0 56.4,416.9 56.7,416.9 57.1,417.1 57.4,417.2 57.7,417.1 58.1,417.0 58.4,417.0 58.7,417.1 59.1,417.2 59.4,417.3 59.8,417.4 60.1,417.4 60.4,417.3 60.8,417.2 61.1,417.0 61.4,416.9 61.8,416.9 62.1,416.9 62.4,416.8 62.8,416.8 63.1,416.8 63.4,416.9 63.8,416.9 64.1,416.9 64.4,416.9 64.8,416.8 65.1,416.7 65.4,416.7 65.8,416.8 66.1,416.8 66.4,416.8 66.8,416.7 67.1,416.7 67.5,416.8 67.8,416.9 68.1,416.9 68.5,417.0 68.8,417.0 69.1,416.8 69.5,416.6 69.8,416.4 70.1,416.2 70.5,416.2 70.8,416.3 71.1,416.3 71.5,416.2 71.8,416.1 72.1,416.0 72.5,415.9 72.8,415.8 73.1,415.7 73.5,415.6 73.8,415.5 74.2,415.4 74.5,415.4 74.8,415.5 75.2,415.5 75.5,415.3 75.8,415.0 76.2,414.8 76.5,414.6 76.8,414.5 77.2,414.4 77.5,414.3 77.8,414.1 78.2,413.9 78.5,413.8 78.8,413.7 79.2,413.5 79.5,413.3 79.8,413.0 80.2,412.8 80.5,412.5 80.9,412.1 81.2,411.7 81.5,411.2 81.9,410.7 82.2,410.2 82.5,409.8 82.9,409.4 83.2,409.0 83.5,408.6 83.9,408.1 84.2,407.5 84.5,406.9 84.9,406.4 85.2,405.8 85.5,405.1 85.9,404.2 86.2,403.3 86.5,402.3 86.9,401.3 87.2,399.9 87.5,398.4 87.9,396.7 88.2,394.9 88.6,392.7 88.9,390.2 89.2,387.5 89.6,384.5 89.9,381.1 90.2,377.4 90.6,373.6 90.9,370.0 91.2,366.4 91.6,362.7 91.9,358.9 92.2,355.4 92.6,352.2 92.9,349.2 93.2,346.2 93.6,343.0 93.9,339.8 94.2,336.6 94.6,333.4 94.9,330.3 95.3,327.4 95.6,324.6 95.9,321.9 96.3,319.3 96.6,317.0 96.9,315.3 97.3,313.9 97.6,312.7 97.9,311.8 98.3,311.6 98.6,311.7 98.9,312.1 99.3,312.9 99.6,314.3 99.9,315.8 100.3,317.6 100.6,319.7 100.9,321.9 101.3,324.3 101.6,326.7 101.9,329.2 102.3,331.6 102.6,334.1 103.0,337.1 103.3,340.4 103.6,343.8 104.0,347.3 104.3,350.8 104.6,354.5 105.0,358.2 105.3,361.7 105.6,365.1 106.0,368.5 106.3,371.5 106.6,374.1 107.0,376.5 107.3,378.7 107.6,380.9 108.0,382.9 108.3,384.7 108.6,386.4 109.0,388.2 109.3,390.0 109.7,391.8 110.0,393.5 110.3,395.2 110.7,396.7 111.0,398.2 111.3,399.5 111.7,400.7 112.0,401.9 112.3,402.9 112.7,403.7 113.0,404.4 113.3,405.0 113.7,405.5 114.0,406.0 114.3,406.6 114.7,407.1 115.0,407.5 115.3,407.8 115.7,408.2 116.0,408.3 116.4,408.4 116.7,408.5 117.0,408.7 117.4,409.0 117.7,409.1 118.0,409.1 118.4,409.1 118.7,409.1 119.0,409.1 119.4,409.1 119.7,409.1 120.0,409.0 120.4,409.1 120.7,409.2 121.0,409.2 121.4,409.3 121.7,409.3 122.0,409.3 122.4,409.3 122.7,409.1 123.0,409.1 123.4,409.1 123.7,409.2 124.1,409.3 124.4,409.4 124.7,409.6 125.1,409.7 125.4,409.6 125.7,409.4 126.1,409.3 126.4,409.3 126.7,409.4 127.1,409.4 127.4,409.4 127.7,409.3 128.1,409.3 128.4,409.2 128.7,409.1 129.1,408.9 129.4,408.8 129.7,408.8 130.1,408.7 130.4,408.6 130.8,408.4 131.1,408.3 131.4,408.0 131.8,407.8 132.1,407.6 132.4,407.4 132.8,407.0 133.1,406.5 133.4,406.3 133.8,406.2 134.1,406.1 134.4,405.8 134.8,405.4 135.1,405.0 135.4,404.7 135.8,404.4 136.1,404.1 136.4,403.6 136.8,403.1 137.1,402.6 137.4,402.1 137.8,401.6 138.1,401.1 138.5,400.7 138.8,400.4 139.1,400.0 139.5,399.5 139.8,399.0 140.1,398.7 140.5,398.3 140.8,397.8 141.1,397.3 141.5,396.6 141.8,396.0 142.1,395.4 142.5,394.8 142.8,394.3 143.1,393.8 143.5,393.3 143.8,392.6 144.1,392.0 144.5,391.3 144.8,390.6 145.2,390.0 145.5,389.3 145.8,388.7 146.2,388.1 146.5,387.6 146.8,387.1 147.2,386.7 147.5,386.1 147.8,385.4 148.2,384.8 148.5,384.2 148.8,383.6 149.2,382.9 149.5,382.5 149.8,382.1 150.2,381.8 150.5,381.5 150.8,381.2 151.2,380.8 151.5,380.5 151.9,380.3 152.2,380.2 152.5,380.1 152.9,380.0 153.2,380.1 153.5,380.0 153.9,379.9 154.2,379.9 154.5,380.1 154.9,380.5 155.2,380.8 155.5,381.2 155.9,381.7 156.2,382.2 156.5,382.9 156.9,383.8 157.2,384.6 157.5,385.3 157.9,386.2 158.2,387.3 158.5,388.3 158.9,389.3 159.2,390.3 159.6,391.3 159.9,392.3 160.2,393.2 160.6,394.1 160.9,394.8 161.2,395.4 161.6,396.1 161.9,396.9 162.2,397.6 162.6,398.3 162.9,398.9 163.2,399.4 163.6,399.8 163.9,400.3 164.2,401.0 164.6,401.4 164.9,401.6 165.2,401.8 165.6,402.2 165.9,402.5 166.3,402.8 166.6,403.1 166.9,403.4 167.3,403.8 167.6,404.1 167.9,404.4 168.3,404.7 168.6,405.0 168.9,405.2 169.3,405.3 169.6,405.4 169.9,405.7 170.3,405.9 170.6,406.0 170.9,406.1 171.3,406.2 171.6,406.5 171.9,406.8 172.3,407.0 172.6,407.0 172.9,406.9 173.3,406.9 173.6,407.0 174.0,407.2 174.3,407.5 174.6,407.7 175.0,407.5 175.3,407.3 175.6,407.4 176.0,407.5 176.3,407.6 176.6,407.7 177.0,407.9 177.3,408.0 177.6,408.1 178.0,408.2 178.3,408.3 178.6,408.3 179.0,408.2 179.3,408.3 179.6,408.4 180.0,408.5 180.3,408.6 180.7,408.7 181.0,408.9 181.3,408.9 181.7,409.0 182.0,409.1 182.3,409.3 182.7,409.3 183.0,409.2 183.3,409.0 183.7,409.2 184.0,409.5 184.3,409.7 184.7,409.7 185.0,409.6 185.3,409.5 185.7,409.4 186.0,409.4 186.3,409.4 186.7,409.4 187.0,409.5 187.4,409.5 187.7,409.3 188.0,409.2 188.4,409.2 188.7,409.1 189.0,409.0 189.4,409.2 189.7,409.3 190.0,409.3 190.4,409.3 190.7,409.2 191.0,408.9 191.4,408.7 191.7,408.6 192.0,408.6 192.4,408.5 192.7,408.5 193.0,408.5 193.4,408.6 193.7,408.6 194.0,408.5 194.4,408.3 194.7,408.3 195.1,408.2 195.4,408.1 195.7,407.9 196.1,407.6 196.4,407.3 196.7,407.2 197.1,407.2 197.4,407.3 197.7,407.2 198.1,407.0 198.4,406.8 198.7,406.6 199.1,406.4 199.4,406.3 199.7,406.2 200.1,406.1 200.4,406.0 200.7,405.9 201.1,405.7 201.4,405.5 201.8,405.5 202.1,405.5 202.4,405.5 202.8,405.4 203.1,405.2 203.4,405.0 203.8,404.8 204.1,404.8 204.4,404.7 204.8,404.5 205.1,404.3 205.4,404.3 205.8,404.2 206.1,404.1 206.4,403.8 206.8,403.6 207.1,403.4 207.4,403.3 207.8,403.0 208.1,402.7 208.4,402.7 208.8,402.8 209.1,402.8 209.5,402.6 209.8,402.5 210.1,402.4 210.5,402.4 210.8,402.2 211.1,402.0 211.5,401.8 211.8,401.6 212.1,401.4 212.5,401.2 212.8,401.1 213.1,401.0 213.5,400.9 213.8,400.9 214.1,400.8 214.5,400.6 214.8,400.4 215.1,400.3 215.5,400.3 215.8,400.3 216.2,400.2 216.5,400.0 216.8,399.8 217.2,399.6 217.5,399.5 217.8,399.5 218.2,399.5 218.5,399.5 218.8,399.4 219.2,399.2 219.5,398.9 219.8,398.8 220.2,399.0 220.5,399.2 220.8,399.2 221.2,399.1 221.5,398.9 221.8,398.8 222.2,398.8 222.5,398.8 222.9,398.8 223.2,398.7 223.5,398.6 223.9,398.5 224.2,398.5 224.5,398.5 224.9,398.4 225.2,398.2 225.5,398.1 225.9,398.1 226.2,398.2 226.5,398.2 226.9,398.1 227.2,398.2 227.5,398.3 227.9,398.4 228.2,398.4 228.5,398.5 228.9,398.5 229.2,398.5 229.5,398.5 229.9,398.4 230.2,398.4 230.6,398.4 230.9,398.4 231.2,398.3 231.6,398.3 231.9,398.3 232.2,398.4 232.6,398.6 232.9,398.8 233.2,399.0 233.6,399.2 233.9,399.2 234.2,399.2 234.6,399.2 234.9,399.2 235.2,399.3 235.6,399.4 235.9,399.6 236.2,399.6 236.6,399.6 236.9,399.8 237.3,400.0 237.6,400.3 237.9,400.5 238.3,400.5 238.6,400.3 238.9,400.1 239.3,400.1 239.6,400.4 239.9,400.6 240.3,400.8 240.6,400.9 240.9,401.0 241.3,401.2 241.6,401.4 241.9,401.4 242.3,401.4 242.6,401.5 242.9,401.5 243.3,401.5 243.6,401.5 243.9,401.5 244.3,401.8 244.6,402.1 245.0,402.4 245.3,402.4 245.6,402.3 246.0,402.3 246.3,402.2 246.6,402.2 247.0,402.3 247.3,402.5 247.6,402.5 248.0,402.5 248.3,402.5 248.6,402.6 249.0,402.7 249.3,402.8 249.6,402.9 250.0,402.9 250.3,402.9 250.6,402.8 251.0,402.9 251.3,403.1 251.7,403.3 252.0,403.3 252.3,403.1 252.7,402.9 253.0,402.8 253.3,402.8 253.7,402.9 254.0,403.0 254.3,402.9 254.7,402.8 255.0,402.8 255.3,402.8 255.7,402.9 256.0,403.0 256.3,403.1 256.7,403.1 257.0,403.0 257.3,402.9 257.7,403.1 258.0,403.4 258.4,403.5 258.7,403.3 259.0,403.2 259.4,403.1 259.7,403.2 260.0,403.3 260.4,403.4 260.7,403.5 261.0,403.5 261.4,403.4 261.7,403.5" fill="none" stroke="#4d4d4d" stroke-width="1.5" stroke-linejoin="round"/>
<polyline points="27.6,358.8 27.9,358.7 28.3,358.6 28.6,358.5 28.9,358.4 29.3,358.4 29.6,358.3 29.9,358.2 30.3,358.2 30.6,358.4 30.9,358.7 31.3,358.9 31.6,358.9 32.0,358.7 32.3,358.5 32.6,358.4 33.0,358.4 33.3,358.3 33.6,358.3 34.0,358.3 34.3,358.3 34.6,358.3 35.0,358.4 35.3,358.5 35.6,358.5 36.0,358.5 36.3,358.4 36.6,358.4 37.0,358.3 37.3,358.3 37.6,358.4 38.0,358.5 38.3,358.6 38.7,358.5 39.0,358.3 39.3,358.2 39.7,358.3 40.0,358.3 40.3,358.3 40.7,358.3 41.0,358.4 41.3,358.4 41.7,358.4 42.0,358.5 42.3,358.5 42.7,358.4 43.0,358.4 43.3,358.4 43.7,358.4 44.0,358.3 44.3,358.2 44.7,358.1 45.0,358.2 45.4,358.2 45.7,358.3 46.0,358.1 46.4,357.9 46.7,357.7 47.0,357.8 47.4,358.0 47.7,358.2 48.0,358.4 48.4,358.3 48.7,358.2 49.0,358.1 49.4,358.1 49.7,358.0 50.0,358.0 50.4,358.1 50.7,358.3 51.0,358.3 51.4,358.3 51.7,358.2 52.0,358.2 52.4,358.2 52.7,358.3 53.1,358.3 53.4,358.2 53.7,358.1 54.1,358.1 54.4,358.2 54.7,358.2 55.1,358.2 55.4,358.3 55.7,358.4 56.1,358.3 56.4,358.3 56.7,358.4 57.1,358.3 57.4,358.1 57.7,357.9 58.1,357.7 58.4,357.7 58.7,357.9 59.1,357.9 59.4,357.8 59.8,357.6 60.1,357.6 60.4,357.6 60.8,357.8 61.1,358.0 61.4,358.3 61.8,358.4 62.1,358.1 62.4,357.7 62.8,357.4 63.1,357.2 63.4,357.4 63.8,357.7 64.1,357.9 64.4,358.0 64.8,357.9 65.1,357.9 65.4,357.9 65.8,357.8 66.1,357.6 66.4,357.5 66.8,357.6 67.1,357.8 67.5,357.9 67.8,357.7 68.1,357.5 68.5,357.5 68.8,357.5 69.1,357.5 69.5,357.5 69.8,357.5 70.1,357.5 70.5,357.5 70.8,357.5 71.1,357.4 71.5,357.3 71.8,357.3 72.1,357.4 72.5,357.3 72.8,357.2 73.1,357.1 73.5,357.1 73.8,357.1 74.2,357.2 74.5,357.2 74.8,357.0 75.2,356.9 75.5,356.8 75.8,356.7 76.2,356.7 76.5,356.8 76.8,356.9 77.2,356.9 77.5,356.9 77.8,356.8 78.2,356.7 78.5,356.7 78.8,356.7 79.2,356.7 79.5,356.5 79.8,356.4 80.2,356.3 80.5,356.3 80.9,356.2 81.2,356.1 81.5,356.0 81.9,356.1 82.2,356.1 82.5,355.8 82.9,355.5 83.2,355.1 83.5,354.8 83.9,354.7 84.2,354.6 84.5,354.5 84.9,354.2 85.2,353.9 85.5,353.6 85.9,353.3 86.2,352.9 86.5,352.4 86.9,352.0 87.2,351.7 87.5,351.4 87.9,351.0 88.2,350.4 88.6,349.8 88.9,349.2 89.2,348.7 89.6,348.0 89.9,347.1 90.2,346.0 90.6,345.0 90.9,343.9 91.2,342.7 91.6,341.3 91.9,339.6 92.2,337.9 92.6,336.2 92.9,334.5 93.2,332.8 93.6,330.9 93.9,328.8 94.2,326.8 94.6,324.6 94.9,322.4 95.3,320.0 95.6,317.3 95.9,314.5 96.3,311.8 96.6,309.1 96.9,306.4 97.3,303.6 97.6,300.8 97.9,298.2 98.3,295.8 98.6,293.7 98.9,291.9 99.3,290.4 99.6,289.3 99.9,288.6 100.3,288.0 100.6,287.7 100.9,287.5 101.3,287.8 101.6,288.6 101.9,289.6 102.3,291.0 102.6,292.7 103.0,294.6 103.3,296.9 103.6,299.4 104.0,302.1 104.3,305.0 104.6,308.0 105.0,310.9 105.3,313.8 105.6,316.6 106.0,319.4 106.3,322.1 106.6,324.5 107.0,326.8 107.3,328.9 107.6,330.9 108.0,332.8 108.3,334.5 108.6,336.2 109.0,338.0 109.3,339.6 109.7,341.0 110.0,342.4 110.3,343.7 110.7,344.9 111.0,345.7 111.3,346.3 111.7,346.9 112.0,347.4 112.3,347.8 112.7,348.0 113.0,348.1 113.3,348.5 113.7,348.9 114.0,349.1 114.3,349.4 114.7,349.9 115.0,350.2 115.3,350.4 115.7,350.6 116.0,351.0 116.4,351.2 116.7,351.3 117.0,351.4 117.4,351.4 117.7,351.5 118.0,351.5 118.4,351.5 118.7,351.4 119.0,351.5 119.4,351.7 119.7,351.7 120.0,351.7 120.4,351.6 120.7,351.5 121.0,351.5 121.4,351.6 121.7,351.8 122.0,352.0 122.4,352.1 122.7,352.1 123.0,352.1 123.4,352.1 123.7,352.0 124.1,352.0 124.4,352.1 124.7,352.2 125.1,352.3 125.4,352.1 125.7,352.1 126.1,352.1 126.4,352.2 126.7,352.3 127.1,352.3 127.4,352.3 127.7,352.4 128.1,352.5 128.4,352.5 128.7,352.5 129.1,352.4 129.4,352.3 129.7,352.2 130.1,352.2 130.4,352.2 130.8,352.3 131.1,352.4 131.4,352.4 131.8,352.2 132.1,352.0 132.4,351.9 132.8,351.7 133.1,351.6 133.4,351.6 133.8,351.4 134.1,351.1 134.4,350.8 134.8,350.6 135.1,350.4 135.4,350.0 135.8,349.9 136.1,350.0 136.4,350.0 136.8,350.0 137.1,349.9 137.4,349.6 137.8,349.3 138.1,349.0 138.5,348.6 138.8,348.4 139.1,348.1 139.5,347.7 139.8,347.3 140.1,346.9 140.5,346.5 140.8,346.1 141.1,345.7 141.5,345.2 141.8,344.7 142.1,344.4 142.5,344.0 142.8,343.6 143.1,343.2 143.5,342.8 143.8,342.3 144.1,341.8 144.5,341.3 144.8,341.0 145.2,340.6 145.5,340.1 145.8,339.7 146.2,339.5 146.5,339.2 146.8,338.7 147.2,338.2 147.5,337.9 147.8,337.6 148.2,337.2 148.5,336.8 148.8,336.4 149.2,336.1 149.5,335.8 149.8,335.6 150.2,335.4 150.5,335.2 150.8,334.9 151.2,334.6 151.5,334.5 151.9,334.4 152.2,334.3 152.5,334.0 152.9,333.7 153.2,333.5 153.5,333.5 153.9,333.6 154.2,333.6 154.5,333.5 154.9,333.2 155.2,333.1 155.5,333.1 155.9,333.2 156.2,333.5 156.5,333.7 156.9,333.8 157.2,334.0 157.5,334.3 157.9,334.4 158.2,334.5 158.5,334.7 158.9,335.0 159.2,335.6 159.6,336.2 159.9,336.6 160.2,336.9 160.6,337.3 160.9,337.9 161.2,338.5 161.6,339.0 161.9,339.5 162.2,339.9 162.6,340.4 162.9,340.9 163.2,341.2 163.6,341.6 163.9,342.2 164.2,342.7 164.6,343.1 164.9,343.5 165.2,344.0 165.6,344.4 165.9,344.7 166.3,344.9 166.6,345.3 166.9,345.6 167.3,346.0 167.6,346.5 167.9,347.0 168.3,347.6 168.6,348.0 168.9,348.2 169.3,348.2 169.6,348.2 169.9,348.3 170.3,348.5 170.6,348.7 170.9,348.9 171.3,349.1 171.6,349.3 171.9,349.4 172.3,349.5 172.6,349.7 172.9,350.1 173.3,350.4 173.6,350.6 174.0,350.7 174.3,350.7 174.6,350.8 175.0,350.9 175.3,351.2 175.6,351.2 176.0,351.1 176.3,351.0 176.6,351.0 177.0,351.0 177.3,351.2 177.6,351.4 178.0,351.5 178.3,351.6 178.6,351.6 179.0,351.6 179.3,351.6 179.6,351.6 180.0,351.7 180.3,351.8 180.7,351.9 181.0,352.1 181.3,352.2 181.7,352.2 182.0,352.1 182.3,352.0 182.7,351.9 183.0,351.9 183.3,352.1 183.7,352.2 184.0,352.3 184.3,352.3 184.7,352.3 185.0,352.4 185.3,352.4 185.7,352.4 186.0,352.4 186.3,352.6 186.7,352.6 187.0,352.4 187.4,352.2 187.7,352.1 188.0,352.2 188.4,352.4 188.7,352.4 189.0,352.4 189.4,352.5 189.7,352.7 190.0,352.6 190.4,352.6 190.7,352.7 191.0,352.7 191.4,352.5 191.7,352.3 192.0,352.1 192.4,352.1 192.7,352.2 193.0,352.3 193.4,352.3 193.7,352.3 194.0,352.2 194.4,352.0 194.7,351.8 195.1,351.6 195.4,351.6 195.7,351.6 196.1,351.6 196.4,351.5 196.7,351.4 197.1,351.3 197.4,351.4 197.7,351.4 198.1,351.4 198.4,351.3 198.7,351.2 199.1,351.1 199.4,351.2 199.7,351.2 200.1,351.2 200.4,351.2 200.7,351.2 201.1,351.1 201.4,350.9 201.8,350.8 202.1,350.7 202.4,350.5 202.8,350.4 203.1,350.3 203.4,350.2 203.8,350.2 204.1,350.0 204.4,349.9 204.8,349.7 205.1,349.8 205.4,349.8 205.8,349.7 206.1,349.5 206.4,349.5 206.8,349.5 207.1,349.3 207.4,349.0 207.8,348.8 208.1,348.6 208.4,348.5 208.8,348.5 209.1,348.5 209.5,348.4 209.8,348.4 210.1,348.4 210.5,348.4 210.8,348.2 211.1,348.0 211.5,347.9 211.8,347.8 212.1,347.6 212.5,347.5 212.8,347.5 213.1,347.4 213.5,346.9 213.8,346.6 214.1,346.5 214.5,346.6 214.8,346.7 215.1,346.7 215.5,346.6 215.8,346.4 216.2,346.3 216.5,346.2 216.8,346.2 217.2,346.3 217.5,346.4 217.8,346.3 218.2,345.9 218.5,345.7 218.8,345.5 219.2,345.4 219.5,345.4 219.8,345.5 220.2,345.5 220.5,345.4 220.8,345.2 221.2,345.1 221.5,345.1 221.8,345.2 222.2,345.3 222.5,345.3 222.9,345.3 223.2,345.2 223.5,345.1 223.9,344.9 224.2,344.7 224.5,344.7 224.9,344.9 225.2,345.1 225.5,345.0 225.9,344.9 226.2,344.8 226.5,344.7 226.9,344.7 227.2,344.8 227.5,344.8 227.9,344.7 228.2,344.7 228.5,344.8 228.9,344.8 229.2,344.8 229.5,344.9 229.9,345.0 230.2,345.0 230.6,345.1 230.9,345.1 231.2,345.0 231.6,344.9 231.9,344.8 232.2,344.7 232.6,344.7 232.9,344.9 233.2,344.9 233.6,345.0 233.9,345.0 234.2,345.1 234.6,345.2 234.9,345.4 235.2,345.7 235.6,345.8 235.9,345.8 236.2,345.7 236.6,345.7 236.9,345.8 237.3,345.8 237.6,345.8 237.9,345.9 238.3,346.0 238.6,346.1 238.9,346.2 239.3,346.2 239.6,346.3 239.9,346.3 240.3,346.4 240.6,346.5 240.9,346.6 241.3,346.5 241.6,346.6 241.9,346.8 242.3,347.0 242.6,347.1 242.9,347.2 243.3,347.4 243.6,347.6 243.9,347.6 244.3,347.5 244.6,347.4 245.0,347.4 245.3,347.4 245.6,347.4 246.0,347.4 246.3,347.5 246.6,347.5 247.0,347.4 247.3,347.5 247.6,347.6 248.0,347.7 248.3,347.6 248.6,347.5 249.0,347.5 249.3,347.5 249.6,347.6 250.0,347.6 250.3,347.7 250.6,347.8 251.0,347.8 251.3,347.9 251.7,347.9 252.0,347.9 252.3,347.7 252.7,347.6 253.0,347.7 253.3,347.9 253.7,348.2 254.0,348.3 254.3,348.2 254.7,348.0 255.0,347.9 255.3,347.9 255.7,348.0 256.0,348.0 256.3,348.0 256.7,347.8 257.0,347.8 257.3,347.9 257.7,347.9 258.0,347.9 258.4,347.9 258.7,347.8 259.0,347.7 259.4,347.6 259.7,347.5 260.0,347.6 260.4,347.6 260.7,347.6 261.0,347.7 261.4,347.8 261.7,347.8" fill="none" stroke="#0c6c0c" stroke-width="1.5" stroke-linejoin="round"/>
<rect x="27.2" y="251.5" width="234.90000000000003" height="190.0" fill="none" stroke="#2e2e2e" stroke-width="1.1"/>
<line x1="27.20" y1="441.5" x2="27.20" y2="445.0" stroke="#2e2e2e" stroke-width="1.0"/>
<text x="27.20" y="453.9" font-size="8.4" text-anchor="middle" fill="#222" stroke="#222" textLength="12.61" lengthAdjust="spacingAndGlyphs">450</text>
<line x1="50.69" y1="441.5" x2="50.69" y2="443.5" stroke="#2e2e2e" stroke-width="1.0"/>
<line x1="74.18" y1="441.5" x2="74.18" y2="445.0" stroke="#2e2e2e" stroke-width="1.0"/>
<text x="74.18" y="453.9" font-size="8.4" text-anchor="middle" fill="#222" stroke="#222" textLength="12.61" lengthAdjust="spacingAndGlyphs">455</text>
<line x1="97.67" y1="441.5" x2="97.67" y2="443.5" stroke="#2e2e2e" stroke-width="1.0"/>
<line x1="121.16" y1="441.5" x2="121.16" y2="445.0" stroke="#2e2e2e" stroke-width="1.0"/>
<text x="121.16" y="453.9" font-size="8.4" text-anchor="middle" fill="#222" stroke="#222" textLength="12.61" lengthAdjust="spacingAndGlyphs">460</text>
<line x1="144.65" y1="441.5" x2="144.65" y2="443.5" stroke="#2e2e2e" stroke-width="1.0"/>
<line x1="168.14" y1="441.5" x2="168.14" y2="445.0" stroke="#2e2e2e" stroke-width="1.0"/>
<text x="168.14" y="453.9" font-size="8.4" text-anchor="middle" fill="#222" stroke="#222" textLength="12.61" lengthAdjust="spacingAndGlyphs">465</text>
<line x1="191.63" y1="441.5" x2="191.63" y2="443.5" stroke="#2e2e2e" stroke-width="1.0"/>
<line x1="215.12" y1="441.5" x2="215.12" y2="445.0" stroke="#2e2e2e" stroke-width="1.0"/>
<text x="215.12" y="453.9" font-size="8.4" text-anchor="middle" fill="#222" stroke="#222" textLength="12.61" lengthAdjust="spacingAndGlyphs">470</text>
<line x1="238.61" y1="441.5" x2="238.61" y2="443.5" stroke="#2e2e2e" stroke-width="1.0"/>
<line x1="262.10" y1="441.5" x2="262.10" y2="445.0" stroke="#2e2e2e" stroke-width="1.0"/>
<text x="262.10" y="453.9" font-size="8.4" text-anchor="middle" fill="#222" stroke="#222" textLength="12.61" lengthAdjust="spacingAndGlyphs">475</text>
<text x="101.11" y="469.4" font-size="9.87" fill="#222" stroke="#222">Binding energy (eV)</text>
<text transform="translate(18.8,345.5) rotate(-90)" font-size="10" text-anchor="middle" fill="#222" stroke="#222">Intensity (a.u.)</text>
<text x="2.51" y="251.2" font-size="17.50" fill="#111" stroke="#111">c</text>
<text x="237.33" y="260.7" font-size="10.90" fill="#222" stroke="#222">Ti 2p</text>
<line x1="176.3" y1="278.8" x2="198.4" y2="278.8" stroke="#555" stroke-width="1.6"/>
<line x1="176.3" y1="290.9" x2="198.4" y2="290.9" stroke="#136b13" stroke-width="1.6"/>
<text x="201.18" y="282.5" font-size="9.00" fill="#222" stroke="#222">LTO</text>
<text x="201.50" y="294.5" font-size="8.89" fill="#222" stroke="#222">ODLTO-425</text>
<text x="92.18" y="278.9" font-size="8.72" fill="#21725b" stroke="#21725b">457.9</text>
<text x="70.99" y="313.8" font-size="8.58" fill="#222" stroke="#222">457.7</text>
<text x="145.68" y="329.3" font-size="8.91" fill="#21725b" stroke="#21725b">463.7</text>
<text x="143.08" y="375.2" font-size="8.87" fill="#222" stroke="#222">463.5</text>
<polyline points="305.6,327.9 306.1,327.7 306.5,327.7 307.0,327.8 307.5,328.0 307.9,328.2 308.4,328.4 308.9,328.6 309.4,328.5 309.8,328.4 310.3,328.2 310.8,328.3 311.2,328.4 311.7,328.3 312.2,328.2 312.6,328.3 313.1,328.4 313.6,328.4 314.0,328.2 314.5,327.8 315.0,328.0 315.5,328.3 315.9,328.2 316.4,327.9 316.9,327.9 317.3,327.7 317.8,327.4 318.3,327.2 318.7,327.5 319.2,327.9 319.7,328.0 320.1,328.1 320.6,328.1 321.1,328.0 321.6,327.7 322.0,327.6 322.5,327.6 323.0,327.6 323.4,327.8 323.9,327.9 324.4,327.8 324.8,327.7 325.3,328.0 325.8,328.2 326.2,327.9 326.7,327.7 327.2,327.9 327.6,328.2 328.1,328.1 328.6,328.0 329.1,327.9 329.5,327.8 330.0,327.6 330.5,327.7 330.9,327.9 331.4,328.1 331.9,328.2 332.3,328.1 332.8,328.1 333.3,328.1 333.7,327.9 334.2,327.5 334.7,327.4 335.2,327.5 335.6,327.5 336.1,327.5 336.6,327.5 337.0,327.5 337.5,327.6 338.0,327.5 338.4,327.3 338.9,327.7 339.4,327.9 339.8,327.7 340.3,327.5 340.8,327.6 341.3,327.5 341.7,327.1 342.2,326.9 342.7,326.9 343.1,326.9 343.6,326.8 344.1,326.7 344.5,326.4 345.0,326.2 345.5,325.9 345.9,325.8 346.4,325.7 346.9,325.5 347.4,325.4 347.8,325.4 348.3,325.1 348.8,324.7 349.2,324.6 349.7,324.4 350.2,324.2 350.6,324.0 351.1,323.7 351.6,323.3 352.0,323.0 352.5,322.8 353.0,322.4 353.5,321.8 353.9,321.4 354.4,321.1 354.9,320.5 355.3,320.2 355.8,320.1 356.3,319.9 356.7,319.5 357.2,318.8 357.7,318.2 358.1,317.7 358.6,317.2 359.1,316.7 359.6,316.0 360.0,315.3 360.5,314.8 361.0,314.3 361.4,313.5 361.9,312.5 362.4,311.8 362.8,311.2 363.3,310.5 363.8,309.7 364.2,309.0 364.7,308.5 365.2,308.1 365.6,307.5 366.1,306.9 366.6,306.3 367.1,305.7 367.5,305.2 368.0,304.3 368.5,303.2 368.9,302.0 369.4,301.0 369.9,300.6 370.3,300.4 370.8,299.9 371.3,299.2 371.7,298.6 372.2,298.0 372.7,297.1 373.2,296.3 373.6,295.9 374.1,295.6 374.6,295.2 375.0,294.7 375.5,294.2 376.0,294.0 376.4,293.9 376.9,293.6 377.4,293.3 377.8,293.0 378.3,292.4 378.8,291.9 379.3,291.8 379.7,292.1 380.2,292.1 380.7,291.9 381.1,291.8 381.6,291.8 382.1,291.9 382.5,291.9 383.0,292.2 383.5,292.7 383.9,292.7 384.4,292.6 384.9,292.6 385.4,293.1 385.8,293.8 386.3,294.2 386.8,294.5 387.2,294.8 387.7,295.1 388.2,295.6 388.6,296.4 389.1,297.2 389.6,297.7 390.0,297.9 390.5,298.3 391.0,298.9 391.5,299.2 391.9,299.5 392.4,300.2 392.9,301.0 393.3,301.7 393.8,302.4 394.3,303.1 394.7,303.7 395.2,304.1 395.7,304.5 396.1,305.1 396.6,305.7 397.1,306.3 397.6,306.7 398.0,307.1 398.5,307.3 399.0,307.6 399.4,308.1 399.9,308.9 400.4,309.6 400.8,310.0 401.3,310.3 401.8,310.7 402.2,311.1 402.7,311.2 403.2,311.1 403.6,311.2 404.1,311.4 404.6,311.6 405.1,312.0 405.5,312.2 406.0,312.4 406.5,312.5 406.9,312.3 407.4,312.2 407.9,312.1 408.3,312.1 408.8,312.2 409.3,312.3 409.7,312.4 410.2,312.2 410.7,311.8 411.2,311.4 411.6,311.0 412.1,310.9 412.6,310.8 413.0,310.8 413.5,310.7 414.0,310.6 414.4,310.3 414.9,309.9 415.4,309.4 415.8,309.1 416.3,308.8 416.8,308.4 417.3,308.0 417.7,307.9 418.2,307.7 418.7,307.0 419.1,306.3 419.6,305.7 420.1,305.4 420.5,305.3 421.0,305.1 421.5,304.9 421.9,304.8 422.4,304.4 422.9,303.7 423.4,303.3 423.8,303.0 424.3,302.6 424.8,302.3 425.2,302.0 425.7,301.8 426.2,301.5 426.6,301.2 427.1,301.0 427.6,300.7 428.0,300.4 428.5,300.2 429.0,300.1 429.5,299.7 429.9,299.2 430.4,298.8 430.9,298.6 431.3,298.5 431.8,298.5 432.3,298.3 432.7,298.1 433.2,298.2 433.7,298.4 434.1,298.3 434.6,298.3 435.1,298.3 435.6,298.1 436.0,297.9 436.5,298.0 437.0,298.4 437.4,298.8 437.9,298.9 438.4,298.7 438.8,298.5 439.3,298.5 439.8,298.7 440.2,298.8 440.7,298.9 441.2,299.3 441.7,299.7 442.1,299.9 442.6,299.9 443.1,299.8 443.5,299.9 444.0,300.4 444.5,301.0 444.9,301.3 445.4,301.4 445.9,301.6 446.3,301.8 446.8,302.1 447.3,302.2 447.7,302.2 448.2,302.4 448.7,302.3 449.2,302.3 449.6,302.6 450.1,303.0 450.6,303.3 451.0,303.5 451.5,303.8 452.0,304.0 452.4,304.1 452.9,304.2 453.4,304.7 453.8,304.9 454.3,304.7 454.8,304.5 455.3,304.7 455.7,305.2 456.2,305.5 456.7,305.6 457.1,305.5 457.6,305.6 458.1,305.9 458.5,306.1 459.0,306.2 459.5,306.2 459.9,306.0 460.4,305.9 460.9,306.0 461.4,306.2 461.8,306.6 462.3,307.1 462.8,307.3 463.2,307.2 463.7,307.0 464.2,307.2 464.6,307.5 465.1,307.9 465.6,308.0 466.0,308.0 466.5,307.8 467.0,307.6 467.5,307.8 467.9,308.2 468.4,308.6 468.9,308.8 469.3,308.9 469.8,309.3 470.3,309.6 470.7,309.5 471.2,309.6 471.7,309.8 472.1,310.1 472.6,310.5 473.1,311.0 473.6,311.3 474.0,311.2 474.5,311.4 475.0,311.8 475.4,312.1 475.9,312.4 476.4,312.7 476.8,313.1 477.3,313.3 477.8,313.6 478.2,313.9 478.7,314.3 479.2,314.6 479.7,315.0 480.1,315.3 480.6,315.5 481.1,315.7 481.5,315.8 482.0,316.0 482.5,316.4 482.9,316.9 483.4,317.1 483.9,317.5 484.3,318.0 484.8,318.3 485.3,318.6 485.7,319.1 486.2,319.5 486.7,319.8 487.2,320.1 487.6,320.3 488.1,320.6 488.6,321.0 489.0,321.1 489.5,321.3 490.0,321.6 490.4,321.8 490.9,322.1 491.4,322.7 491.8,323.0 492.3,323.0 492.8,323.1 493.3,323.4 493.7,323.5 494.2,323.6 494.7,323.9 495.1,324.3 495.6,324.6 496.1,325.0 496.5,325.1 497.0,325.1 497.5,325.1 497.9,325.1 498.4,325.3 498.9,325.5 499.4,325.6 499.8,325.7 500.3,326.0 500.8,326.5 501.2,326.7 501.7,326.6 502.2,326.5 502.6,326.7 503.1,326.9 503.6,326.9 504.0,326.9 504.5,326.8 505.0,326.9 505.5,326.9 505.9,327.0 506.4,327.2 506.9,327.3 507.3,327.5 507.8,327.6 508.3,327.6 508.7,327.6 509.2,327.5 509.7,327.6 510.1,327.6 510.6,327.7 511.1,327.7 511.6,327.6 512.0,327.4 512.5,327.4 513.0,327.6 513.4,327.6 513.9,327.4 514.4,327.3 514.8,327.5 515.3,327.8 515.8,327.8 516.2,327.7 516.7,327.6 517.2,327.5 517.7,327.7 518.1,328.0 518.6,328.1 519.1,328.1 519.5,328.0 520.0,328.0 520.5,328.0 520.9,328.3 521.4,328.5 521.9,328.4 522.3,328.1 522.8,327.9 523.3,328.0 523.7,328.1 524.2,327.9 524.7,327.8 525.2,327.9 525.6,328.1 526.1,328.1 526.6,327.9 527.0,328.0 527.5,328.1 528.0,327.9 528.4,327.9 528.9,328.2 529.4,328.3 529.8,328.0 530.3,327.9 530.8,328.3 531.3,328.4 531.7,328.0 532.2,327.8 532.7,328.1 533.1,328.3 533.6,328.3 534.1,328.2 534.5,328.1 535.0,328.2 535.5,328.5 535.9,328.3 536.4,327.8 536.9,327.9 537.4,328.2 537.8,328.1 538.3,327.9 538.8,327.9 539.2,328.1 539.7,328.1" fill="none" stroke="#e3a52a" stroke-width="1.0" stroke-linejoin="round"/>
<polyline points="305.6,329.2 306.1,329.2 306.5,329.2 307.0,329.2 307.5,329.2 307.9,329.2 308.4,329.2 308.9,329.2 309.4,329.2 309.8,329.2 310.3,329.2 310.8,329.2 311.2,329.2 311.7,329.2 312.2,329.2 312.6,329.2 313.1,329.2 313.6,329.2 314.0,329.2 314.5,329.2 315.0,329.2 315.5,329.2 315.9,329.2 316.4,329.2 316.9,329.2 317.3,329.2 317.8,329.2 318.3,329.2 318.7,329.2 319.2,329.2 319.7,329.2 320.1,329.2 320.6,329.2 321.1,329.2 321.6,329.2 322.0,329.2 322.5,329.2 323.0,329.2 323.4,329.2 323.9,329.2 324.4,329.2 324.8,329.2 325.3,329.1 325.8,329.1 326.2,329.1 326.7,329.1 327.2,329.1 327.6,329.1 328.1,329.1 328.6,329.1 329.1,329.1 329.5,329.1 330.0,329.1 330.5,329.1 330.9,329.1 331.4,329.0 331.9,329.0 332.3,329.0 332.8,329.0 333.3,329.0 333.7,329.0 334.2,328.9 334.7,328.9 335.2,328.9 335.6,328.9 336.1,328.8 336.6,328.8 337.0,328.8 337.5,328.7 338.0,328.7 338.4,328.6 338.9,328.6 339.4,328.5 339.8,328.5 340.3,328.4 340.8,328.3 341.3,328.2 341.7,328.2 342.2,328.1 342.7,328.0 343.1,327.9 343.6,327.8 344.1,327.7 344.5,327.5 345.0,327.4 345.5,327.3 345.9,327.1 346.4,326.9 346.9,326.8 347.4,326.6 347.8,326.4 348.3,326.2 348.8,326.0 349.2,325.8 349.7,325.5 350.2,325.3 350.6,325.0 351.1,324.7 351.6,324.4 352.0,324.1 352.5,323.8 353.0,323.4 353.5,323.0 353.9,322.7 354.4,322.3 354.9,321.9 355.3,321.4 355.8,321.0 356.3,320.5 356.7,320.1 357.2,319.6 357.7,319.1 358.1,318.5 358.6,318.0 359.1,317.4 359.6,316.9 360.0,316.3 360.5,315.7 361.0,315.0 361.4,314.4 361.9,313.8 362.4,313.1 362.8,312.5 363.3,311.8 363.8,311.1 364.2,310.4 364.7,309.7 365.2,309.0 365.6,308.3 366.1,307.6 366.6,306.9 367.1,306.2 367.5,305.5 368.0,304.8 368.5,304.1 368.9,303.4 369.4,302.7 369.9,302.0 370.3,301.4 370.8,300.7 371.3,300.1 371.7,299.5 372.2,298.9 372.7,298.3 373.2,297.8 373.6,297.2 374.1,296.7 374.6,296.3 375.0,295.8 375.5,295.4 376.0,295.0 376.4,294.6 376.9,294.3 377.4,294.0 377.8,293.7 378.3,293.5 378.8,293.3 379.3,293.2 379.7,293.0 380.2,293.0 380.7,292.9 381.1,292.9 381.6,292.9 382.1,293.0 382.5,293.1 383.0,293.2 383.5,293.4 383.9,293.6 384.4,293.9 384.9,294.1 385.4,294.4 385.8,294.8 386.3,295.1 386.8,295.5 387.2,295.9 387.7,296.4 388.2,296.8 388.6,297.3 389.1,297.8 389.6,298.3 390.0,298.8 390.5,299.4 391.0,299.9 391.5,300.5 391.9,301.0 392.4,301.6 392.9,302.2 393.3,302.7 393.8,303.3 394.3,303.9 394.7,304.4 395.2,305.0 395.7,305.6 396.1,306.1 396.6,306.6 397.1,307.2 397.6,307.7 398.0,308.1 398.5,308.6 399.0,309.1 399.4,309.5 399.9,309.9 400.4,310.3 400.8,310.7 401.3,311.0 401.8,311.4 402.2,311.7 402.7,312.0 403.2,312.2 403.6,312.4 404.1,312.6 404.6,312.8 405.1,313.0 405.5,313.1 406.0,313.2 406.5,313.3 406.9,313.3 407.4,313.3 407.9,313.3 408.3,313.3 408.8,313.2 409.3,313.2 409.7,313.1 410.2,312.9 410.7,312.8 411.2,312.6 411.6,312.4 412.1,312.2 412.6,312.0 413.0,311.8 413.5,311.5 414.0,311.2 414.4,310.9 414.9,310.6 415.4,310.3 415.8,310.0 416.3,309.7 416.8,309.3 417.3,309.0 417.7,308.6 418.2,308.2 418.7,307.9 419.1,307.5 419.6,307.1 420.1,306.8 420.5,306.4 421.0,306.0 421.5,305.6 421.9,305.3 422.4,304.9 422.9,304.5 423.4,304.2 423.8,303.8 424.3,303.5 424.8,303.2 425.2,302.8 425.7,302.5 426.2,302.2 426.6,301.9 427.1,301.7 427.6,301.4 428.0,301.2 428.5,300.9 429.0,300.7 429.5,300.5 429.9,300.3 430.4,300.2 430.9,300.0 431.3,299.9 431.8,299.8 432.3,299.6 432.7,299.6 433.2,299.5 433.7,299.4 434.1,299.4 434.6,299.4 435.1,299.4 435.6,299.4 436.0,299.4 436.5,299.5 437.0,299.5 437.4,299.6 437.9,299.7 438.4,299.8 438.8,299.9 439.3,300.0 439.8,300.1 440.2,300.3 440.7,300.4 441.2,300.6 441.7,300.7 442.1,300.9 442.6,301.1 443.1,301.3 443.5,301.5 444.0,301.7 444.5,301.8 444.9,302.0 445.4,302.3 445.9,302.5 446.3,302.7 446.8,302.9 447.3,303.1 447.7,303.3 448.2,303.5 448.7,303.7 449.2,303.9 449.6,304.1 450.1,304.2 450.6,304.4 451.0,304.6 451.5,304.8 452.0,305.0 452.4,305.1 452.9,305.3 453.4,305.5 453.8,305.6 454.3,305.8 454.8,305.9 455.3,306.1 455.7,306.2 456.2,306.4 456.7,306.5 457.1,306.6 457.6,306.7 458.1,306.9 458.5,307.0 459.0,307.1 459.5,307.2 459.9,307.3 460.4,307.5 460.9,307.6 461.4,307.7 461.8,307.8 462.3,307.9 462.8,308.1 463.2,308.2 463.7,308.3 464.2,308.4 464.6,308.6 465.1,308.7 465.6,308.8 466.0,309.0 466.5,309.1 467.0,309.3 467.5,309.5 467.9,309.6 468.4,309.8 468.9,310.0 469.3,310.2 469.8,310.4 470.3,310.6 470.7,310.8 471.2,311.0 471.7,311.2 472.1,311.4 472.6,311.7 473.1,311.9 473.6,312.2 474.0,312.4 474.5,312.7 475.0,313.0 475.4,313.3 475.9,313.5 476.4,313.8 476.8,314.1 477.3,314.4 477.8,314.7 478.2,315.0 478.7,315.3 479.2,315.6 479.7,316.0 480.1,316.3 480.6,316.6 481.1,316.9 481.5,317.2 482.0,317.6 482.5,317.9 482.9,318.2 483.4,318.5 483.9,318.8 484.3,319.2 484.8,319.5 485.3,319.8 485.7,320.1 486.2,320.4 486.7,320.7 487.2,321.0 487.6,321.3 488.1,321.6 488.6,321.9 489.0,322.2 489.5,322.4 490.0,322.7 490.4,323.0 490.9,323.2 491.4,323.5 491.8,323.7 492.3,324.0 492.8,324.2 493.3,324.4 493.7,324.6 494.2,324.9 494.7,325.1 495.1,325.3 495.6,325.5 496.1,325.7 496.5,325.8 497.0,326.0 497.5,326.2 497.9,326.3 498.4,326.5 498.9,326.6 499.4,326.8 499.8,326.9 500.3,327.0 500.8,327.2 501.2,327.3 501.7,327.4 502.2,327.5 502.6,327.6 503.1,327.7 503.6,327.8 504.0,327.9 504.5,328.0 505.0,328.1 505.5,328.1 505.9,328.2 506.4,328.3 506.9,328.3 507.3,328.4 507.8,328.4 508.3,328.5 508.7,328.5 509.2,328.6 509.7,328.6 510.1,328.7 510.6,328.7 511.1,328.8 511.6,328.8 512.0,328.8 512.5,328.8 513.0,328.9 513.4,328.9 513.9,328.9 514.4,328.9 514.8,329.0 515.3,329.0 515.8,329.0 516.2,329.0 516.7,329.0 517.2,329.0 517.7,329.1 518.1,329.1 518.6,329.1 519.1,329.1 519.5,329.1 520.0,329.1 520.5,329.1 520.9,329.1 521.4,329.1 521.9,329.1 522.3,329.1 522.8,329.2 523.3,329.2 523.7,329.2 524.2,329.2 524.7,329.2 525.2,329.2 525.6,329.2 526.1,329.2 526.6,329.2 527.0,329.2 527.5,329.2 528.0,329.2 528.4,329.2 528.9,329.2 529.4,329.2 529.8,329.2 530.3,329.2 530.8,329.2 531.3,329.2 531.7,329.2 532.2,329.2 532.7,329.2 533.1,329.2 533.6,329.2 534.1,329.2 534.5,329.2 535.0,329.2 535.5,329.2 535.9,329.2 536.4,329.2 536.9,329.2 537.4,329.2 537.8,329.2 538.3,329.2 538.8,329.2 539.2,329.2 539.7,329.2" fill="none" stroke="#12c4dc" stroke-width="1.7" stroke-linejoin="round"/>
<polyline points="305.6,329.2 306.1,329.2 306.5,329.2 307.0,329.2 307.5,329.2 307.9,329.2 308.4,329.2 308.9,329.2 309.4,329.2 309.8,329.2 310.3,329.2 310.8,329.2 311.2,329.2 311.7,329.2 312.2,329.2 312.6,329.2 313.1,329.2 313.6,329.2 314.0,329.2 314.5,329.2 315.0,329.2 315.5,329.2 315.9,329.2 316.4,329.2 316.9,329.2 317.3,329.2 317.8,329.2 318.3,329.2 318.7,329.2 319.2,329.2 319.7,329.2 320.1,329.2 320.6,329.2 321.1,329.2 321.6,329.2 322.0,329.2 322.5,329.2 323.0,329.2 323.4,329.2 323.9,329.2 324.4,329.2 324.8,329.2 325.3,329.2 325.8,329.2 326.2,329.2 326.7,329.2 327.2,329.2 327.6,329.2 328.1,329.2 328.6,329.1 329.1,329.1 329.5,329.1 330.0,329.1 330.5,329.1 330.9,329.1 331.4,329.1 331.9,329.1 332.3,329.1 332.8,329.0 333.3,329.0 333.7,329.0 334.2,329.0 334.7,329.0 335.2,328.9 335.6,328.9 336.1,328.9 336.6,328.8 337.0,328.8 337.5,328.8 338.0,328.7 338.4,328.7 338.9,328.6 339.4,328.6 339.8,328.5 340.3,328.4 340.8,328.4 341.3,328.3 341.7,328.2 342.2,328.1 342.7,328.0 343.1,327.9 343.6,327.8 344.1,327.7 344.5,327.6 345.0,327.5 345.5,327.3 345.9,327.2 346.4,327.0 346.9,326.8 347.4,326.7 347.8,326.5 348.3,326.3 348.8,326.0 349.2,325.8 349.7,325.6 350.2,325.3 350.6,325.0 351.1,324.8 351.6,324.5 352.0,324.1 352.5,323.8 353.0,323.5 353.5,323.1 353.9,322.7 354.4,322.3 354.9,321.9 355.3,321.5 355.8,321.1 356.3,320.6 356.7,320.1 357.2,319.6 357.7,319.1 358.1,318.6 358.6,318.1 359.1,317.5 359.6,316.9 360.0,316.3 360.5,315.7 361.0,315.1 361.4,314.5 361.9,313.9 362.4,313.2 362.8,312.5 363.3,311.9 363.8,311.2 364.2,310.5 364.7,309.8 365.2,309.1 365.6,308.4 366.1,307.7 366.6,307.0 367.1,306.3 367.5,305.6 368.0,304.9 368.5,304.2 368.9,303.5 369.4,302.8 369.9,302.2 370.3,301.5 370.8,300.9 371.3,300.2 371.7,299.6 372.2,299.1 372.7,298.5 373.2,297.9 373.6,297.4 374.1,296.9 374.6,296.4 375.0,296.0 375.5,295.6 376.0,295.2 376.4,294.9 376.9,294.5 377.4,294.3 377.8,294.0 378.3,293.8 378.8,293.6 379.3,293.5 379.7,293.4 380.2,293.3 380.7,293.3 381.1,293.3 381.6,293.4 382.1,293.5 382.5,293.6 383.0,293.8 383.5,294.0 383.9,294.2 384.4,294.5 384.9,294.8 385.4,295.1 385.8,295.5 386.3,295.9 386.8,296.4 387.2,296.8 387.7,297.3 388.2,297.8 388.6,298.4 389.1,299.0 389.6,299.5 390.0,300.1 390.5,300.8 391.0,301.4 391.5,302.1 391.9,302.7 392.4,303.4 392.9,304.1 393.3,304.8 393.8,305.5 394.3,306.2 394.7,306.9 395.2,307.6 395.7,308.3 396.1,309.0 396.6,309.7 397.1,310.4 397.6,311.1 398.0,311.8 398.5,312.4 399.0,313.1 399.4,313.8 399.9,314.4 400.4,315.0 400.8,315.6 401.3,316.2 401.8,316.8 402.2,317.4 402.7,318.0 403.2,318.5 403.6,319.0 404.1,319.6 404.6,320.1 405.1,320.5 405.5,321.0 406.0,321.4 406.5,321.9 406.9,322.3 407.4,322.7 407.9,323.1 408.3,323.4 408.8,323.8 409.3,324.1 409.7,324.4 410.2,324.7 410.7,325.0 411.2,325.3 411.6,325.5 412.1,325.8 412.6,326.0 413.0,326.2 413.5,326.4 414.0,326.6 414.4,326.8 414.9,327.0 415.4,327.1 415.8,327.3 416.3,327.4 416.8,327.6 417.3,327.7 417.7,327.8 418.2,327.9 418.7,328.0 419.1,328.1 419.6,328.2 420.1,328.3 420.5,328.4 421.0,328.4 421.5,328.5 421.9,328.6 422.4,328.6 422.9,328.7 423.4,328.7 423.8,328.8 424.3,328.8 424.8,328.8 425.2,328.9 425.7,328.9 426.2,328.9 426.6,328.9 427.1,329.0 427.6,329.0 428.0,329.0 428.5,329.0 429.0,329.1 429.5,329.1 429.9,329.1 430.4,329.1 430.9,329.1 431.3,329.1 431.8,329.1 432.3,329.1 432.7,329.1 433.2,329.2 433.7,329.2 434.1,329.2 434.6,329.2 435.1,329.2 435.6,329.2 436.0,329.2 436.5,329.2 437.0,329.2 437.4,329.2 437.9,329.2 438.4,329.2 438.8,329.2 439.3,329.2 439.8,329.2 440.2,329.2 440.7,329.2 441.2,329.2 441.7,329.2 442.1,329.2 442.6,329.2 443.1,329.2 443.5,329.2 444.0,329.2 444.5,329.2 444.9,329.2 445.4,329.2 445.9,329.2 446.3,329.2 446.8,329.2 447.3,329.2 447.7,329.2 448.2,329.2 448.7,329.2 449.2,329.2 449.6,329.2 450.1,329.2 450.6,329.2 451.0,329.2 451.5,329.2 452.0,329.2 452.4,329.2 452.9,329.2 453.4,329.2 453.8,329.2 454.3,329.2 454.8,329.2 455.3,329.2 455.7,329.2 456.2,329.2 456.7,329.2 457.1,329.2 457.6,329.2 458.1,329.3 458.5,329.3 459.0,329.3 459.5,329.3 459.9,329.3 460.4,329.3 460.9,329.3 461.4,329.3 461.8,329.3 462.3,329.3 462.8,329.3 463.2,329.3 463.7,329.3 464.2,329.3 464.6,329.3 465.1,329.3 465.6,329.3 466.0,329.3 466.5,329.3 467.0,329.3 467.5,329.3 467.9,329.3 468.4,329.3 468.9,329.3 469.3,329.3 469.8,329.3 470.3,329.3 470.7,329.3 471.2,329.3 471.7,329.3 472.1,329.3 472.6,329.3 473.1,329.3 473.6,329.3 474.0,329.3 474.5,329.3 475.0,329.3 475.4,329.3 475.9,329.3 476.4,329.3 476.8,329.3 477.3,329.3 477.8,329.3 478.2,329.3 478.7,329.3 479.2,329.3 479.7,329.3 480.1,329.3 480.6,329.3 481.1,329.3 481.5,329.3 482.0,329.3 482.5,329.3 482.9,329.3 483.4,329.3 483.9,329.3 484.3,329.3 484.8,329.3 485.3,329.3 485.7,329.3 486.2,329.3 486.7,329.3 487.2,329.3 487.6,329.3 488.1,329.3 488.6,329.3 489.0,329.3 489.5,329.3 490.0,329.3 490.4,329.3 490.9,329.3 491.4,329.3 491.8,329.3 492.3,329.3 492.8,329.3 493.3,329.3 493.7,329.3 494.2,329.3 494.7,329.3 495.1,329.3 495.6,329.3 496.1,329.3 496.5,329.3 497.0,329.3 497.5,329.3 497.9,329.3 498.4,329.3 498.9,329.3 499.4,329.3 499.8,329.3 500.3,329.3 500.8,329.3 501.2,329.3 501.7,329.3 502.2,329.3 502.6,329.3 503.1,329.3 503.6,329.3 504.0,329.3 504.5,329.3 505.0,329.3 505.5,329.3 505.9,329.3 506.4,329.3 506.9,329.3 507.3,329.3 507.8,329.3 508.3,329.3 508.7,329.3 509.2,329.3 509.7,329.3 510.1,329.3 510.6,329.3 511.1,329.3 511.6,329.3 512.0,329.3 512.5,329.3 513.0,329.3 513.4,329.3 513.9,329.3 514.4,329.3 514.8,329.3 515.3,329.3 515.8,329.3 516.2,329.3 516.7,329.3 517.2,329.3 517.7,329.3 518.1,329.3 518.6,329.3 519.1,329.3 519.5,329.3 520.0,329.3 520.5,329.3 520.9,329.3 521.4,329.3 521.9,329.3 522.3,329.3 522.8,329.3 523.3,329.3 523.7,329.3 524.2,329.3 524.7,329.3 525.2,329.3 525.6,329.3 526.1,329.3 526.6,329.3 527.0,329.3 527.5,329.3 528.0,329.3 528.4,329.3 528.9,329.3 529.4,329.3 529.8,329.3 530.3,329.3 530.8,329.3 531.3,329.3 531.7,329.3 532.2,329.3 532.7,329.3 533.1,329.3 533.6,329.3 534.1,329.3 534.5,329.3 535.0,329.3 535.5,329.3 535.9,329.3 536.4,329.3 536.9,329.3 537.4,329.3 537.8,329.3 538.3,329.3 538.8,329.3 539.2,329.3 539.7,329.3" fill="none" stroke="#8c9000" stroke-width="1.7" stroke-linejoin="round"/>
<polyline points="305.6,329.3 306.1,329.3 306.5,329.3 307.0,329.3 307.5,329.3 307.9,329.3 308.4,329.3 308.9,329.3 309.4,329.3 309.8,329.3 310.3,329.3 310.8,329.3 311.2,329.3 311.7,329.3 312.2,329.3 312.6,329.3 313.1,329.3 313.6,329.3 314.0,329.3 314.5,329.3 315.0,329.3 315.5,329.3 315.9,329.3 316.4,329.3 316.9,329.3 317.3,329.3 317.8,329.3 318.3,329.3 318.7,329.3 319.2,329.3 319.7,329.3 320.1,329.3 320.6,329.3 321.1,329.3 321.6,329.3 322.0,329.3 322.5,329.3 323.0,329.3 323.4,329.3 323.9,329.3 324.4,329.3 324.8,329.3 325.3,329.3 325.8,329.3 326.2,329.3 326.7,329.3 327.2,329.3 327.6,329.3 328.1,329.3 328.6,329.3 329.1,329.3 329.5,329.3 330.0,329.3 330.5,329.3 330.9,329.3 331.4,329.3 331.9,329.3 332.3,329.3 332.8,329.3 333.3,329.3 333.7,329.3 334.2,329.3 334.7,329.3 335.2,329.3 335.6,329.3 336.1,329.3 336.6,329.3 337.0,329.3 337.5,329.3 338.0,329.3 338.4,329.3 338.9,329.3 339.4,329.3 339.8,329.3 340.3,329.3 340.8,329.3 341.3,329.3 341.7,329.3 342.2,329.3 342.7,329.3 343.1,329.3 343.6,329.3 344.1,329.3 344.5,329.3 345.0,329.3 345.5,329.3 345.9,329.3 346.4,329.3 346.9,329.3 347.4,329.3 347.8,329.3 348.3,329.3 348.8,329.3 349.2,329.3 349.7,329.3 350.2,329.3 350.6,329.3 351.1,329.3 351.6,329.3 352.0,329.3 352.5,329.3 353.0,329.3 353.5,329.3 353.9,329.3 354.4,329.3 354.9,329.3 355.3,329.3 355.8,329.3 356.3,329.3 356.7,329.3 357.2,329.3 357.7,329.3 358.1,329.3 358.6,329.3 359.1,329.3 359.6,329.3 360.0,329.3 360.5,329.3 361.0,329.3 361.4,329.3 361.9,329.3 362.4,329.3 362.8,329.3 363.3,329.3 363.8,329.3 364.2,329.3 364.7,329.3 365.2,329.3 365.6,329.3 366.1,329.3 366.6,329.3 367.1,329.3 367.5,329.3 368.0,329.3 368.5,329.3 368.9,329.3 369.4,329.3 369.9,329.3 370.3,329.3 370.8,329.3 371.3,329.3 371.7,329.3 372.2,329.3 372.7,329.3 373.2,329.3 373.6,329.3 374.1,329.3 374.6,329.3 375.0,329.3 375.5,329.3 376.0,329.3 376.4,329.3 376.9,329.3 377.4,329.3 377.8,329.3 378.3,329.3 378.8,329.3 379.3,329.3 379.7,329.3 380.2,329.3 380.7,329.3 381.1,329.3 381.6,329.3 382.1,329.3 382.5,329.3 383.0,329.3 383.5,329.3 383.9,329.3 384.4,329.3 384.9,329.3 385.4,329.3 385.8,329.3 386.3,329.3 386.8,329.3 387.2,329.3 387.7,329.3 388.2,329.3 388.6,329.3 389.1,329.3 389.6,329.3 390.0,329.3 390.5,329.3 391.0,329.3 391.5,329.3 391.9,329.3 392.4,329.3 392.9,329.3 393.3,329.3 393.8,329.3 394.3,329.3 394.7,329.3 395.2,329.3 395.7,329.3 396.1,329.3 396.6,329.3 397.1,329.3 397.6,329.3 398.0,329.3 398.5,329.3 399.0,329.3 399.4,329.3 399.9,329.3 400.4,329.3 400.8,329.3 401.3,329.3 401.8,329.3 402.2,329.3 402.7,329.3 403.2,329.3 403.6,329.3 404.1,329.3 404.6,329.3 405.1,329.3 405.5,329.3 406.0,329.3 406.5,329.3 406.9,329.3 407.4,329.3 407.9,329.3 408.3,329.3 408.8,329.3 409.3,329.3 409.7,329.3 410.2,329.3 410.7,329.3 411.2,329.3 411.6,329.3 412.1,329.3 412.6,329.3 413.0,329.3 413.5,329.3 414.0,329.3 414.4,329.3 414.9,329.3 415.4,329.3 415.8,329.3 416.3,329.3 416.8,329.3 417.3,329.3 417.7,329.3 418.2,329.3 418.7,329.3 419.1,329.3 419.6,329.3 420.1,329.3 420.5,329.3 421.0,329.3 421.5,329.3 421.9,329.3 422.4,329.3 422.9,329.3 423.4,329.3 423.8,329.3 424.3,329.3 424.8,329.3 425.2,329.3 425.7,329.3 426.2,329.3 426.6,329.3 427.1,329.3 427.6,329.3 428.0,329.3 428.5,329.3 429.0,329.3 429.5,329.3 429.9,329.3 430.4,329.3 430.9,329.3 431.3,329.3 431.8,329.3 432.3,329.3 432.7,329.3 433.2,329.3 433.7,329.3 434.1,329.3 434.6,329.3 435.1,329.3 435.6,329.3 436.0,329.3 436.5,329.3 437.0,329.3 437.4,329.3 437.9,329.3 438.4,329.3 438.8,329.3 439.3,329.3 439.8,329.3 440.2,329.3 440.7,329.3 441.2,329.3 441.7,329.3 442.1,329.3 442.6,329.3 443.1,329.3 443.5,329.3 444.0,329.3 444.5,329.3 444.9,329.3 445.4,329.3 445.9,329.3 446.3,329.3 446.8,329.3 447.3,329.3 447.7,329.3 448.2,329.3 448.7,329.3 449.2,329.3 449.6,329.3 450.1,329.3 450.6,329.3 451.0,329.3 451.5,329.3 452.0,329.3 452.4,329.3 452.9,329.3 453.4,329.3 453.8,329.3 454.3,329.3 454.8,329.3 455.3,329.3 455.7,329.3 456.2,329.3 456.7,329.3 457.1,329.3 457.6,329.3 458.1,329.3 458.5,329.3 459.0,329.3 459.5,329.3 459.9,329.3 460.4,329.3 460.9,329.3 461.4,329.3 461.8,329.3 462.3,329.3 462.8,329.3 463.2,329.3 463.7,329.3 464.2,329.3 464.6,329.3 465.1,329.3 465.6,329.3 466.0,329.3 466.5,329.3 467.0,329.3 467.5,329.3 467.9,329.3 468.4,329.3 468.9,329.3 469.3,329.3 469.8,329.3 470.3,329.3 470.7,329.3 471.2,329.3 471.7,329.3 472.1,329.3 472.6,329.3 473.1,329.3 473.6,329.3 474.0,329.3 474.5,329.3 475.0,329.3 475.4,329.3 475.9,329.3 476.4,329.3 476.8,329.3 477.3,329.3 477.8,329.3 478.2,329.3 478.7,329.3 479.2,329.3 479.7,329.3 480.1,329.3 480.6,329.3 481.1,329.3 481.5,329.3 482.0,329.3 482.5,329.3 482.9,329.3 483.4,329.3 483.9,329.3 484.3,329.3 484.8,329.3 485.3,329.3 485.7,329.3 486.2,329.3 486.7,329.3 487.2,329.3 487.6,329.3 488.1,329.3 488.6,329.3 489.0,329.3 489.5,329.3 490.0,329.3 490.4,329.3 490.9,329.3 491.4,329.3 491.8,329.3 492.3,329.3 492.8,329.3 493.3,329.3 493.7,329.3 494.2,329.3 494.7,329.3 495.1,329.3 495.6,329.3 496.1,329.3 496.5,329.3 497.0,329.3 497.5,329.3 497.9,329.3 498.4,329.3 498.9,329.3 499.4,329.3 499.8,329.3 500.3,329.3 500.8,329.3 501.2,329.3 501.7,329.3 502.2,329.3 502.6,329.3 503.1,329.3 503.6,329.3 504.0,329.3 504.5,329.3 505.0,329.3 505.5,329.3 505.9,329.3 506.4,329.3 506.9,329.3 507.3,329.3 507.8,329.3 508.3,329.3 508.7,329.3 509.2,329.3 509.7,329.3 510.1,329.3 510.6,329.3 511.1,329.3 511.6,329.3 512.0,329.3 512.5,329.3 513.0,329.3 513.4,329.3 513.9,329.3 514.4,329.3 514.8,329.3 515.3,329.3 515.8,329.3 516.2,329.3 516.7,329.3 517.2,329.3 517.7,329.3 518.1,329.3 518.6,329.3 519.1,329.3 519.5,329.3 520.0,329.3 520.5,329.3 520.9,329.3 521.4,329.3 521.9,329.3 522.3,329.3 522.8,329.3 523.3,329.3 523.7,329.3 524.2,329.3 524.7,329.3 525.2,329.3 525.6,329.3 526.1,329.3 526.6,329.3 527.0,329.3 527.5,329.3 528.0,329.3 528.4,329.3 528.9,329.3 529.4,329.3 529.8,329.3 530.3,329.3 530.8,329.3 531.3,329.3 531.7,329.3 532.2,329.3 532.7,329.3 533.1,329.3 533.6,329.3 534.1,329.3 534.5,329.3 535.0,329.3 535.5,329.3 535.9,329.3 536.4,329.3 536.9,329.3 537.4,329.3 537.8,329.3 538.3,329.3 538.8,329.3 539.2,329.3 539.7,329.3" fill="none" stroke="#3a8fd8" stroke-width="1.5" stroke-linejoin="round"/>
<polyline points="305.6,329.0 306.1,329.0 306.5,329.0 307.0,329.0 307.5,329.0 307.9,329.0 308.4,329.0 308.9,329.0 309.4,329.0 309.8,329.0 310.3,329.0 310.8,329.0 311.2,329.0 311.7,329.0 312.2,329.0 312.6,329.0 313.1,329.0 313.6,329.0 314.0,329.0 314.5,329.0 315.0,329.0 315.5,329.0 315.9,329.0 316.4,329.0 316.9,329.0 317.3,329.0 317.8,329.0 318.3,329.0 318.7,329.0 319.2,329.0 319.7,329.0 320.1,329.0 320.6,329.0 321.1,329.0 321.6,329.0 322.0,329.0 322.5,329.0 323.0,329.0 323.4,329.0 323.9,329.0 324.4,329.0 324.8,329.0 325.3,329.0 325.8,329.0 326.2,329.0 326.7,329.0 327.2,329.0 327.6,329.0 328.1,329.0 328.6,329.0 329.1,329.0 329.5,329.0 330.0,329.0 330.5,329.0 330.9,329.0 331.4,329.0 331.9,329.0 332.3,329.0 332.8,329.0 333.3,329.0 333.7,329.0 334.2,329.0 334.7,329.0 335.2,329.0 335.6,329.0 336.1,329.0 336.6,329.0 337.0,329.0 337.5,329.0 338.0,329.0 338.4,329.0 338.9,329.0 339.4,329.0 339.8,329.0 340.3,329.0 340.8,329.0 341.3,329.0 341.7,329.0 342.2,329.0 342.7,329.0 343.1,329.0 343.6,329.0 344.1,329.0 344.5,329.0 345.0,329.0 345.5,329.0 345.9,329.0 346.4,329.0 346.9,329.0 347.4,329.0 347.8,329.0 348.3,329.0 348.8,329.0 349.2,329.0 349.7,329.0 350.2,329.0 350.6,329.0 351.1,329.0 351.6,329.0 352.0,329.0 352.5,329.0 353.0,328.9 353.5,328.9 353.9,328.9 354.4,328.9 354.9,328.9 355.3,328.9 355.8,328.9 356.3,328.9 356.7,328.9 357.2,328.9 357.7,328.9 358.1,328.9 358.6,328.9 359.1,328.9 359.6,328.9 360.0,328.9 360.5,328.9 361.0,328.9 361.4,328.9 361.9,328.9 362.4,328.9 362.8,328.9 363.3,328.9 363.8,328.9 364.2,328.9 364.7,328.9 365.2,328.9 365.6,328.9 366.1,328.9 366.6,328.9 367.1,328.9 367.5,328.9 368.0,328.9 368.5,328.9 368.9,328.9 369.4,328.9 369.9,328.9 370.3,328.9 370.8,328.9 371.3,328.9 371.7,328.9 372.2,328.9 372.7,328.9 373.2,328.9 373.6,328.8 374.1,328.8 374.6,328.8 375.0,328.8 375.5,328.8 376.0,328.8 376.4,328.8 376.9,328.8 377.4,328.8 377.8,328.8 378.3,328.7 378.8,328.7 379.3,328.7 379.7,328.7 380.2,328.7 380.7,328.6 381.1,328.6 381.6,328.6 382.1,328.6 382.5,328.5 383.0,328.5 383.5,328.5 383.9,328.4 384.4,328.4 384.9,328.4 385.4,328.3 385.8,328.3 386.3,328.2 386.8,328.2 387.2,328.1 387.7,328.1 388.2,328.0 388.6,327.9 389.1,327.8 389.6,327.8 390.0,327.7 390.5,327.6 391.0,327.5 391.5,327.4 391.9,327.3 392.4,327.2 392.9,327.1 393.3,327.0 393.8,326.9 394.3,326.7 394.7,326.6 395.2,326.4 395.7,326.3 396.1,326.1 396.6,326.0 397.1,325.8 397.6,325.6 398.0,325.4 398.5,325.2 399.0,325.0 399.4,324.8 399.9,324.6 400.4,324.3 400.8,324.1 401.3,323.8 401.8,323.6 402.2,323.3 402.7,323.0 403.2,322.7 403.6,322.4 404.1,322.1 404.6,321.8 405.1,321.5 405.5,321.1 406.0,320.8 406.5,320.4 406.9,320.1 407.4,319.7 407.9,319.3 408.3,318.9 408.8,318.5 409.3,318.1 409.7,317.7 410.2,317.3 410.7,316.9 411.2,316.4 411.6,316.0 412.1,315.5 412.6,315.1 413.0,314.6 413.5,314.2 414.0,313.7 414.4,313.2 414.9,312.8 415.4,312.3 415.8,311.8 416.3,311.4 416.8,310.9 417.3,310.4 417.7,309.9 418.2,309.5 418.7,309.0 419.1,308.6 419.6,308.1 420.1,307.7 420.5,307.2 421.0,306.8 421.5,306.4 421.9,306.0 422.4,305.6 422.9,305.2 423.4,304.8 423.8,304.4 424.3,304.1 424.8,303.7 425.2,303.4 425.7,303.1 426.2,302.8 426.6,302.5 427.1,302.3 427.6,302.0 428.0,301.8 428.5,301.6 429.0,301.4 429.5,301.3 429.9,301.1 430.4,301.0 430.9,300.9 431.3,300.8 431.8,300.7 432.3,300.7 432.7,300.7 433.2,300.7 433.7,300.7 434.1,300.8 434.6,300.9 435.1,301.0 435.6,301.1 436.0,301.2 436.5,301.4 437.0,301.5 437.4,301.7 437.9,302.0 438.4,302.2 438.8,302.4 439.3,302.7 439.8,303.0 440.2,303.3 440.7,303.6 441.2,304.0 441.7,304.3 442.1,304.7 442.6,305.1 443.1,305.5 443.5,305.9 444.0,306.3 444.5,306.7 444.9,307.1 445.4,307.5 445.9,308.0 446.3,308.4 446.8,308.9 447.3,309.4 447.7,309.8 448.2,310.3 448.7,310.8 449.2,311.2 449.6,311.7 450.1,312.2 450.6,312.6 451.0,313.1 451.5,313.6 452.0,314.0 452.4,314.5 452.9,315.0 453.4,315.4 453.8,315.9 454.3,316.3 454.8,316.7 455.3,317.2 455.7,317.6 456.2,318.0 456.7,318.4 457.1,318.8 457.6,319.2 458.1,319.6 458.5,320.0 459.0,320.3 459.5,320.7 459.9,321.0 460.4,321.4 460.9,321.7 461.4,322.0 461.8,322.3 462.3,322.7 462.8,322.9 463.2,323.2 463.7,323.5 464.2,323.8 464.6,324.0 465.1,324.3 465.6,324.5 466.0,324.7 466.5,324.9 467.0,325.2 467.5,325.4 467.9,325.6 468.4,325.7 468.9,325.9 469.3,326.1 469.8,326.2 470.3,326.4 470.7,326.5 471.2,326.7 471.7,326.8 472.1,326.9 472.6,327.1 473.1,327.2 473.6,327.3 474.0,327.4 474.5,327.5 475.0,327.6 475.4,327.7 475.9,327.8 476.4,327.8 476.8,327.9 477.3,328.0 477.8,328.0 478.2,328.1 478.7,328.2 479.2,328.2 479.7,328.3 480.1,328.3 480.6,328.3 481.1,328.4 481.5,328.4 482.0,328.5 482.5,328.5 482.9,328.5 483.4,328.6 483.9,328.6 484.3,328.6 484.8,328.6 485.3,328.7 485.7,328.7 486.2,328.7 486.7,328.7 487.2,328.7 487.6,328.8 488.1,328.8 488.6,328.8 489.0,328.8 489.5,328.8 490.0,328.8 490.4,328.8 490.9,328.8 491.4,328.8 491.8,328.8 492.3,328.9 492.8,328.9 493.3,328.9 493.7,328.9 494.2,328.9 494.7,328.9 495.1,328.9 495.6,328.9 496.1,328.9 496.5,328.9 497.0,328.9 497.5,328.9 497.9,328.9 498.4,328.9 498.9,328.9 499.4,328.9 499.8,328.9 500.3,328.9 500.8,328.9 501.2,328.9 501.7,328.9 502.2,328.9 502.6,328.9 503.1,328.9 503.6,328.9 504.0,328.9 504.5,328.9 505.0,328.9 505.5,328.9 505.9,328.9 506.4,328.9 506.9,328.9 507.3,328.9 507.8,328.9 508.3,328.9 508.7,328.9 509.2,328.9 509.7,328.9 510.1,328.9 510.6,328.9 511.1,328.9 511.6,328.9 512.0,328.9 512.5,328.9 513.0,328.9 513.4,329.0 513.9,329.0 514.4,329.0 514.8,329.0 515.3,329.0 515.8,329.0 516.2,329.0 516.7,329.0 517.2,329.0 517.7,329.0 518.1,329.0 518.6,329.0 519.1,329.0 519.5,329.0 520.0,329.0 520.5,329.0 520.9,329.0 521.4,329.0 521.9,329.0 522.3,329.0 522.8,329.0 523.3,329.0 523.7,329.0 524.2,329.0 524.7,329.0 525.2,329.0 525.6,329.0 526.1,329.0 526.6,329.0 527.0,329.0 527.5,329.0 528.0,329.0 528.4,329.0 528.9,329.0 529.4,329.0 529.8,329.0 530.3,329.0 530.8,329.0 531.3,329.0 531.7,329.0 532.2,329.0 532.7,329.0 533.1,329.0 533.6,329.0 534.1,329.0 534.5,329.0 535.0,329.0 535.5,329.0 535.9,329.0 536.4,329.0 536.9,329.0 537.4,329.0 537.8,329.0 538.3,329.0 538.8,329.0 539.2,329.0 539.7,329.0" fill="none" stroke="#fa5c0c" stroke-width="1.5" stroke-linejoin="round"/>
<polyline points="305.6,329.1 306.1,329.1 306.5,329.1 307.0,329.1 307.5,329.1 307.9,329.1 308.4,329.1 308.9,329.1 309.4,329.1 309.8,329.1 310.3,329.1 310.8,329.1 311.2,329.1 311.7,329.1 312.2,329.1 312.6,329.1 313.1,329.1 313.6,329.1 314.0,329.1 314.5,329.1 315.0,329.1 315.5,329.1 315.9,329.1 316.4,329.1 316.9,329.1 317.3,329.1 317.8,329.1 318.3,329.1 318.7,329.1 319.2,329.1 319.7,329.1 320.1,329.1 320.6,329.1 321.1,329.1 321.6,329.1 322.0,329.1 322.5,329.1 323.0,329.1 323.4,329.1 323.9,329.1 324.4,329.1 324.8,329.1 325.3,329.1 325.8,329.1 326.2,329.1 326.7,329.1 327.2,329.1 327.6,329.1 328.1,329.1 328.6,329.1 329.1,329.1 329.5,329.1 330.0,329.1 330.5,329.1 330.9,329.1 331.4,329.1 331.9,329.1 332.3,329.1 332.8,329.1 333.3,329.1 333.7,329.1 334.2,329.1 334.7,329.1 335.2,329.1 335.6,329.1 336.1,329.1 336.6,329.1 337.0,329.1 337.5,329.1 338.0,329.1 338.4,329.1 338.9,329.1 339.4,329.1 339.8,329.1 340.3,329.1 340.8,329.1 341.3,329.1 341.7,329.1 342.2,329.1 342.7,329.1 343.1,329.1 343.6,329.1 344.1,329.1 344.5,329.1 345.0,329.1 345.5,329.1 345.9,329.1 346.4,329.1 346.9,329.1 347.4,329.1 347.8,329.1 348.3,329.1 348.8,329.1 349.2,329.1 349.7,329.1 350.2,329.1 350.6,329.1 351.1,329.1 351.6,329.1 352.0,329.1 352.5,329.1 353.0,329.1 353.5,329.1 353.9,329.1 354.4,329.1 354.9,329.1 355.3,329.1 355.8,329.1 356.3,329.1 356.7,329.1 357.2,329.1 357.7,329.1 358.1,329.1 358.6,329.1 359.1,329.1 359.6,329.1 360.0,329.1 360.5,329.1 361.0,329.1 361.4,329.1 361.9,329.1 362.4,329.1 362.8,329.1 363.3,329.1 363.8,329.1 364.2,329.1 364.7,329.1 365.2,329.1 365.6,329.1 366.1,329.1 366.6,329.1 367.1,329.1 367.5,329.1 368.0,329.1 368.5,329.1 368.9,329.1 369.4,329.1 369.9,329.1 370.3,329.1 370.8,329.1 371.3,329.1 371.7,329.1 372.2,329.1 372.7,329.1 373.2,329.1 373.6,329.1 374.1,329.1 374.6,329.1 375.0,329.1 375.5,329.1 376.0,329.1 376.4,329.1 376.9,329.1 377.4,329.1 377.8,329.1 378.3,329.1 378.8,329.1 379.3,329.1 379.7,329.1 380.2,329.1 380.7,329.1 381.1,329.1 381.6,329.1 382.1,329.1 382.5,329.1 383.0,329.1 383.5,329.1 383.9,329.1 384.4,329.1 384.9,329.1 385.4,329.1 385.8,329.1 386.3,329.1 386.8,329.1 387.2,329.1 387.7,329.1 388.2,329.1 388.6,329.1 389.1,329.1 389.6,329.1 390.0,329.1 390.5,329.1 391.0,329.1 391.5,329.1 391.9,329.1 392.4,329.1 392.9,329.1 393.3,329.1 393.8,329.1 394.3,329.1 394.7,329.1 395.2,329.1 395.7,329.1 396.1,329.1 396.6,329.1 397.1,329.1 397.6,329.1 398.0,329.1 398.5,329.1 399.0,329.1 399.4,329.1 399.9,329.1 400.4,329.1 400.8,329.1 401.3,329.1 401.8,329.1 402.2,329.1 402.7,329.1 403.2,329.1 403.6,329.1 404.1,329.1 404.6,329.1 405.1,329.1 405.5,329.1 406.0,329.1 406.5,329.1 406.9,329.1 407.4,329.1 407.9,329.1 408.3,329.1 408.8,329.1 409.3,329.1 409.7,329.1 410.2,329.1 410.7,329.1 411.2,329.1 411.6,329.1 412.1,329.1 412.6,329.1 413.0,329.1 413.5,329.1 414.0,329.1 414.4,329.1 414.9,329.1 415.4,329.0 415.8,329.0 416.3,329.0 416.8,329.0 417.3,329.0 417.7,329.0 418.2,329.0 418.7,329.0 419.1,329.0 419.6,329.0 420.1,329.0 420.5,328.9 421.0,328.9 421.5,328.9 421.9,328.9 422.4,328.9 422.9,328.8 423.4,328.8 423.8,328.8 424.3,328.8 424.8,328.7 425.2,328.7 425.7,328.7 426.2,328.7 426.6,328.6 427.1,328.6 427.6,328.5 428.0,328.5 428.5,328.4 429.0,328.4 429.5,328.3 429.9,328.3 430.4,328.2 430.9,328.2 431.3,328.1 431.8,328.0 432.3,327.9 432.7,327.9 433.2,327.8 433.7,327.7 434.1,327.6 434.6,327.5 435.1,327.4 435.6,327.3 436.0,327.2 436.5,327.1 437.0,326.9 437.4,326.8 437.9,326.7 438.4,326.5 438.8,326.4 439.3,326.2 439.8,326.1 440.2,325.9 440.7,325.7 441.2,325.5 441.7,325.3 442.1,325.2 442.6,325.0 443.1,324.7 443.5,324.5 444.0,324.3 444.5,324.1 444.9,323.9 445.4,323.6 445.9,323.4 446.3,323.1 446.8,322.9 447.3,322.6 447.7,322.4 448.2,322.1 448.7,321.8 449.2,321.6 449.6,321.3 450.1,321.0 450.6,320.7 451.0,320.4 451.5,320.1 452.0,319.8 452.4,319.6 452.9,319.3 453.4,319.0 453.8,318.7 454.3,318.4 454.8,318.1 455.3,317.8 455.7,317.5 456.2,317.2 456.7,317.0 457.1,316.7 457.6,316.4 458.1,316.2 458.5,315.9 459.0,315.7 459.5,315.4 459.9,315.2 460.4,315.0 460.9,314.8 461.4,314.6 461.8,314.4 462.3,314.2 462.8,314.0 463.2,313.8 463.7,313.7 464.2,313.6 464.6,313.4 465.1,313.3 465.6,313.2 466.0,313.1 466.5,313.1 467.0,313.0 467.5,313.0 467.9,313.0 468.4,313.0 468.9,313.0 469.3,313.0 469.8,313.0 470.3,313.1 470.7,313.1 471.2,313.2 471.7,313.3 472.1,313.4 472.6,313.5 473.1,313.6 473.6,313.8 474.0,313.9 474.5,314.1 475.0,314.3 475.4,314.5 475.9,314.7 476.4,314.9 476.8,315.1 477.3,315.3 477.8,315.6 478.2,315.8 478.7,316.1 479.2,316.3 479.7,316.6 480.1,316.8 480.6,317.1 481.1,317.4 481.5,317.7 482.0,318.0 482.5,318.3 482.9,318.5 483.4,318.8 483.9,319.1 484.3,319.4 484.8,319.7 485.3,320.0 485.7,320.3 486.2,320.6 486.7,320.9 487.2,321.1 487.6,321.4 488.1,321.7 488.6,322.0 489.0,322.2 489.5,322.5 490.0,322.8 490.4,323.0 490.9,323.3 491.4,323.5 491.8,323.8 492.3,324.0 492.8,324.2 493.3,324.4 493.7,324.6 494.2,324.9 494.7,325.1 495.1,325.3 495.6,325.4 496.1,325.6 496.5,325.8 497.0,326.0 497.5,326.1 497.9,326.3 498.4,326.5 498.9,326.6 499.4,326.7 499.8,326.9 500.3,327.0 500.8,327.1 501.2,327.2 501.7,327.3 502.2,327.5 502.6,327.6 503.1,327.7 503.6,327.7 504.0,327.8 504.5,327.9 505.0,328.0 505.5,328.1 505.9,328.1 506.4,328.2 506.9,328.3 507.3,328.3 507.8,328.4 508.3,328.4 508.7,328.5 509.2,328.5 509.7,328.6 510.1,328.6 510.6,328.6 511.1,328.7 511.6,328.7 512.0,328.7 512.5,328.8 513.0,328.8 513.4,328.8 513.9,328.8 514.4,328.9 514.8,328.9 515.3,328.9 515.8,328.9 516.2,328.9 516.7,328.9 517.2,329.0 517.7,329.0 518.1,329.0 518.6,329.0 519.1,329.0 519.5,329.0 520.0,329.0 520.5,329.0 520.9,329.0 521.4,329.0 521.9,329.0 522.3,329.1 522.8,329.1 523.3,329.1 523.7,329.1 524.2,329.1 524.7,329.1 525.2,329.1 525.6,329.1 526.1,329.1 526.6,329.1 527.0,329.1 527.5,329.1 528.0,329.1 528.4,329.1 528.9,329.1 529.4,329.1 529.8,329.1 530.3,329.1 530.8,329.1 531.3,329.1 531.7,329.1 532.2,329.1 532.7,329.1 533.1,329.1 533.6,329.1 534.1,329.1 534.5,329.1 535.0,329.1 535.5,329.1 535.9,329.1 536.4,329.1 536.9,329.1 537.4,329.1 537.8,329.1 538.3,329.1 538.8,329.1 539.2,329.1 539.7,329.1" fill="none" stroke="#3a8cdc" stroke-width="1.5" stroke-linejoin="round"/>
<polyline points="305.6,422.7 306.1,422.7 306.5,422.7 307.0,422.7 307.5,422.7 307.9,422.7 308.4,422.7 308.9,422.7 309.4,422.7 309.8,422.7 310.3,422.7 310.8,422.7 311.2,422.7 311.7,422.7 312.2,422.7 312.6,422.7 313.1,422.7 313.6,422.7 314.0,422.7 314.5,422.7 315.0,422.7 315.5,422.7 315.9,422.7 316.4,422.7 316.9,422.7 317.3,422.7 317.8,422.6 318.3,422.6 318.7,422.6 319.2,422.6 319.7,422.6 320.1,422.6 320.6,422.6 321.1,422.6 321.6,422.6 322.0,422.6 322.5,422.6 323.0,422.6 323.4,422.6 323.9,422.6 324.4,422.6 324.8,422.6 325.3,422.6 325.8,422.6 326.2,422.6 326.7,422.6 327.2,422.6 327.6,422.6 328.1,422.6 328.6,422.6 329.1,422.6 329.5,422.6 330.0,422.6 330.5,422.6 330.9,422.6 331.4,422.6 331.9,422.6 332.3,422.6 332.8,422.6 333.3,422.6 333.7,422.6 334.2,422.6 334.7,422.6 335.2,422.6 335.6,422.6 336.1,422.6 336.6,422.6 337.0,422.6 337.5,422.6 338.0,422.6 338.4,422.6 338.9,422.6 339.4,422.6 339.8,422.6 340.3,422.6 340.8,422.6 341.3,422.6 341.7,422.6 342.2,422.6 342.7,422.5 343.1,422.5 343.6,422.5 344.1,422.5 344.5,422.5 345.0,422.5 345.5,422.5 345.9,422.5 346.4,422.5 346.9,422.5 347.4,422.5 347.8,422.5 348.3,422.5 348.8,422.5 349.2,422.5 349.7,422.5 350.2,422.5 350.6,422.5 351.1,422.5 351.6,422.5 352.0,422.5 352.5,422.5 353.0,422.5 353.5,422.5 353.9,422.5 354.4,422.5 354.9,422.5 355.3,422.5 355.8,422.5 356.3,422.5 356.7,422.5 357.2,422.5 357.7,422.5 358.1,422.5 358.6,422.5 359.1,422.5 359.6,422.5 360.0,422.5 360.5,422.5 361.0,422.5 361.4,422.5 361.9,422.5 362.4,422.5 362.8,422.5 363.3,422.5 363.8,422.5 364.2,422.5 364.7,422.5 365.2,422.5 365.6,422.5 366.1,422.5 366.6,422.5 367.1,422.5 367.5,422.4 368.0,422.4 368.5,422.4 368.9,422.4 369.4,422.4 369.9,422.4 370.3,422.4 370.8,422.4 371.3,422.4 371.7,422.4 372.2,422.4 372.7,422.4 373.2,422.4 373.6,422.4 374.1,422.4 374.6,422.4 375.0,422.4 375.5,422.4 376.0,422.4 376.4,422.4 376.9,422.4 377.4,422.4 377.8,422.4 378.3,422.4 378.8,422.4 379.3,422.4 379.7,422.4 380.2,422.4 380.7,422.4 381.1,422.4 381.6,422.4 382.1,422.4 382.5,422.4 383.0,422.4 383.5,422.4 383.9,422.4 384.4,422.4 384.9,422.4 385.4,422.4 385.8,422.4 386.3,422.4 386.8,422.4 387.2,422.4 387.7,422.4 388.2,422.4 388.6,422.4 389.1,422.4 389.6,422.4 390.0,422.4 390.5,422.4 391.0,422.4 391.5,422.4 391.9,422.4 392.4,422.4 392.9,422.3 393.3,422.3 393.8,422.3 394.3,422.3 394.7,422.3 395.2,422.3 395.7,422.3 396.1,422.3 396.6,422.3 397.1,422.3 397.6,422.3 398.0,422.3 398.5,422.3 399.0,422.3 399.4,422.3 399.9,422.3 400.4,422.3 400.8,422.3 401.3,422.3 401.8,422.3 402.2,422.3 402.7,422.3 403.2,422.3 403.6,422.3 404.1,422.3 404.6,422.3 405.1,422.3 405.5,422.3 406.0,422.3 406.5,422.3 406.9,422.3 407.4,422.3 407.9,422.3 408.3,422.3 408.8,422.3 409.3,422.3 409.7,422.3 410.2,422.3 410.7,422.3 411.2,422.3 411.6,422.3 412.1,422.3 412.6,422.3 413.0,422.3 413.5,422.3 414.0,422.3 414.4,422.3 414.9,422.3 415.4,422.3 415.8,422.3 416.3,422.3 416.8,422.3 417.3,422.3 417.7,422.2 418.2,422.2 418.7,422.2 419.1,422.2 419.6,422.2 420.1,422.2 420.5,422.2 421.0,422.2 421.5,422.2 421.9,422.2 422.4,422.2 422.9,422.2 423.4,422.2 423.8,422.2 424.3,422.2 424.8,422.2 425.2,422.2 425.7,422.2 426.2,422.2 426.6,422.2 427.1,422.2 427.6,422.2 428.0,422.2 428.5,422.2 429.0,422.2 429.5,422.2 429.9,422.2 430.4,422.2 430.9,422.2 431.3,422.2 431.8,422.2 432.3,422.2 432.7,422.2 433.2,422.2 433.7,422.2 434.1,422.2 434.6,422.2 435.1,422.2 435.6,422.2 436.0,422.2 436.5,422.2 437.0,422.2 437.4,422.2 437.9,422.2 438.4,422.2 438.8,422.2 439.3,422.2 439.8,422.2 440.2,422.2 440.7,422.2 441.2,422.2 441.7,422.2 442.1,422.2 442.6,422.1 443.1,422.1 443.5,422.1 444.0,422.1 444.5,422.1 444.9,422.1 445.4,422.1 445.9,422.1 446.3,422.1 446.8,422.1 447.3,422.1 447.7,422.1 448.2,422.1 448.7,422.1 449.2,422.1 449.6,422.1 450.1,422.1 450.6,422.1 451.0,422.1 451.5,422.1 452.0,422.1 452.4,422.1 452.9,422.1 453.4,422.1 453.8,422.1 454.3,422.1 454.8,422.1 455.3,422.1 455.7,422.1 456.2,422.1 456.7,422.1 457.1,422.1 457.6,422.1 458.1,422.1 458.5,422.1 459.0,422.1 459.5,422.1 459.9,422.1 460.4,422.1 460.9,422.1 461.4,422.1 461.8,422.1 462.3,422.1 462.8,422.1 463.2,422.1 463.7,422.1 464.2,422.1 464.6,422.1 465.1,422.1 465.6,422.1 466.0,422.1 466.5,422.1 467.0,422.1 467.5,422.1 467.9,422.0 468.4,422.0 468.9,422.0 469.3,422.0 469.8,422.0 470.3,422.0 470.7,422.0 471.2,422.0 471.7,422.0 472.1,422.0 472.6,422.0 473.1,422.0 473.6,422.0 474.0,422.0 474.5,422.0 475.0,422.0 475.4,422.0 475.9,422.0 476.4,422.0 476.8,422.0 477.3,422.0 477.8,422.0 478.2,422.0 478.7,422.0 479.2,422.0 479.7,422.0 480.1,422.0 480.6,422.0 481.1,422.0 481.5,422.0 482.0,422.0 482.5,422.0 482.9,422.0 483.4,422.0 483.9,422.0 484.3,422.0 484.8,422.0 485.3,422.0 485.7,422.0 486.2,422.0 486.7,422.0 487.2,422.0 487.6,422.0 488.1,422.0 488.6,422.0 489.0,422.0 489.5,422.0 490.0,422.0 490.4,422.0 490.9,422.0 491.4,422.0 491.8,422.0 492.3,422.0 492.8,421.9 493.3,421.9 493.7,421.9 494.2,421.9 494.7,421.9 495.1,421.9 495.6,421.9 496.1,421.9 496.5,421.9 497.0,421.9 497.5,421.9 497.9,421.9 498.4,421.9 498.9,421.9 499.4,421.9 499.8,421.9 500.3,421.9 500.8,421.9 501.2,421.9 501.7,421.9 502.2,421.9 502.6,421.9 503.1,421.9 503.6,421.9 504.0,421.9 504.5,421.9 505.0,421.9 505.5,421.9 505.9,421.9 506.4,421.9 506.9,421.9 507.3,421.9 507.8,421.9 508.3,421.9 508.7,421.9 509.2,421.9 509.7,421.9 510.1,421.9 510.6,421.9 511.1,421.9 511.6,421.9 512.0,421.9 512.5,421.9 513.0,421.9 513.4,421.9 513.9,421.9 514.4,421.9 514.8,421.9 515.3,421.9 515.8,421.9 516.2,421.9 516.7,421.9 517.2,421.9 517.7,421.8 518.1,421.8 518.6,421.8 519.1,421.8 519.5,421.8 520.0,421.8 520.5,421.8 520.9,421.8 521.4,421.8 521.9,421.8 522.3,421.8 522.8,421.8 523.3,421.8 523.7,421.8 524.2,421.8 524.7,421.8 525.2,421.8 525.6,421.8 526.1,421.8 526.6,421.8 527.0,421.8 527.5,421.8 528.0,421.8 528.4,421.8 528.9,421.8 529.4,421.8 529.8,421.8 530.3,421.8 530.8,421.8 531.3,421.8 531.7,421.8 532.2,421.8 532.7,421.8 533.1,421.8 533.6,421.8 534.1,421.8 534.5,421.8 535.0,421.8 535.5,421.8 535.9,421.8 536.4,421.8 536.9,421.8 537.4,421.8 537.8,421.8 538.3,421.8 538.8,421.8 539.2,421.8 539.7,421.8" fill="none" stroke="#2a80e0" stroke-width="1.5" stroke-linejoin="round"/>
<polyline points="305.6,421.0 306.1,421.1 306.5,421.1 307.0,421.1 307.5,421.1 307.9,421.1 308.4,421.3 308.9,421.5 309.4,421.5 309.8,421.4 310.3,421.4 310.8,421.5 311.2,421.6 311.7,421.7 312.2,421.8 312.6,421.7 313.1,421.4 313.6,421.3 314.0,421.4 314.5,421.3 315.0,421.0 315.5,420.7 315.9,420.7 316.4,421.1 316.9,421.3 317.3,421.3 317.8,421.1 318.3,421.1 318.7,421.2 319.2,421.2 319.7,421.1 320.1,420.9 320.6,420.6 321.1,420.4 321.6,420.4 322.0,420.6 322.5,420.9 323.0,421.2 323.4,421.3 323.9,421.1 324.4,421.0 324.8,421.0 325.3,421.0 325.8,421.1 326.2,421.0 326.7,420.8 327.2,420.8 327.6,420.9 328.1,421.0 328.6,421.2 329.1,421.3 329.5,420.9 330.0,420.5 330.5,420.3 330.9,420.4 331.4,420.4 331.9,420.3 332.3,420.6 332.8,420.7 333.3,420.6 333.7,420.5 334.2,420.5 334.7,420.5 335.2,420.4 335.6,420.6 336.1,420.9 336.6,420.8 337.0,420.6 337.5,420.3 338.0,420.2 338.4,420.2 338.9,420.2 339.4,420.2 339.8,420.3 340.3,420.5 340.8,420.2 341.3,419.7 341.7,419.4 342.2,419.5 342.7,419.8 343.1,419.9 343.6,419.6 344.1,419.2 344.5,418.9 345.0,418.9 345.5,418.8 345.9,418.6 346.4,418.6 346.9,418.5 347.4,418.1 347.8,417.5 348.3,417.1 348.8,417.1 349.2,417.1 349.7,416.7 350.2,416.3 350.6,416.1 351.1,415.8 351.6,415.4 352.0,414.9 352.5,414.3 353.0,413.8 353.5,413.3 353.9,412.6 354.4,412.0 354.9,411.7 355.3,411.3 355.8,410.7 356.3,410.0 356.7,409.0 357.2,407.9 357.7,406.9 358.1,406.3 358.6,405.7 359.1,404.8 359.6,403.8 360.0,402.7 360.5,401.4 361.0,400.2 361.4,399.1 361.9,398.1 362.4,396.8 362.8,395.5 363.3,394.0 363.8,392.5 364.2,391.1 364.7,389.7 365.2,388.3 365.6,386.8 366.1,385.6 366.6,384.4 367.1,382.7 367.5,380.9 368.0,379.6 368.5,378.3 368.9,376.8 369.4,375.2 369.9,373.7 370.3,372.4 370.8,371.2 371.3,369.5 371.7,367.7 372.2,366.3 372.7,365.1 373.2,364.0 373.6,362.7 374.1,361.3 374.6,360.0 375.0,359.0 375.5,358.0 376.0,356.9 376.4,355.8 376.9,355.1 377.4,354.4 377.8,353.8 378.3,353.2 378.8,352.9 379.3,352.5 379.7,352.0 380.2,351.8 380.7,351.7 381.1,351.6 381.6,351.4 382.1,351.5 382.5,351.8 383.0,352.3 383.5,352.9 383.9,353.3 384.4,353.7 384.9,354.5 385.4,355.4 385.8,356.2 386.3,356.6 386.8,357.0 387.2,357.9 387.7,359.0 388.2,360.0 388.6,360.9 389.1,361.8 389.6,362.8 390.0,364.0 390.5,365.1 391.0,366.2 391.5,367.2 391.9,368.3 392.4,369.4 392.9,370.7 393.3,372.0 393.8,373.0 394.3,373.9 394.7,374.6 395.2,375.4 395.7,376.5 396.1,377.7 396.6,378.6 397.1,379.3 397.6,380.1 398.0,381.1 398.5,382.3 399.0,383.1 399.4,383.6 399.9,384.3 400.4,385.1 400.8,385.9 401.3,386.6 401.8,387.0 402.2,387.4 402.7,388.1 403.2,388.6 403.6,388.8 404.1,389.3 404.6,389.7 405.1,390.0 405.5,390.0 406.0,390.1 406.5,390.6 406.9,391.2 407.4,391.7 407.9,391.8 408.3,391.6 408.8,391.3 409.3,391.2 409.7,391.2 410.2,391.2 410.7,391.1 411.2,391.1 411.6,391.4 412.1,391.9 412.6,392.2 413.0,392.0 413.5,391.7 414.0,391.4 414.4,391.2 414.9,391.0 415.4,391.1 415.8,391.4 416.3,391.4 416.8,391.1 417.3,391.2 417.7,391.4 418.2,391.3 418.7,391.1 419.1,390.8 419.6,390.8 420.1,390.9 420.5,390.9 421.0,390.7 421.5,390.6 421.9,390.8 422.4,390.9 422.9,391.0 423.4,391.1 423.8,391.3 424.3,391.4 424.8,391.3 425.2,391.0 425.7,390.8 426.2,390.9 426.6,391.3 427.1,391.7 427.6,391.9 428.0,391.9 428.5,391.7 429.0,391.7 429.5,391.7 429.9,391.7 430.4,391.7 430.9,391.7 431.3,391.9 431.8,392.0 432.3,392.1 432.7,392.3 433.2,392.6 433.7,392.7 434.1,392.8 434.6,392.9 435.1,393.2 435.6,393.6 436.0,393.7 436.5,393.8 437.0,393.8 437.4,393.9 437.9,394.4 438.4,394.8 438.8,395.0 439.3,395.2 439.8,395.3 440.2,395.5 440.7,395.9 441.2,396.4 441.7,396.8 442.1,396.9 442.6,397.2 443.1,397.4 443.5,397.3 444.0,397.5 444.5,398.1 444.9,398.6 445.4,399.0 445.9,399.3 446.3,399.3 446.8,399.2 447.3,399.3 447.7,399.9 448.2,400.4 448.7,400.9 449.2,401.2 449.6,401.5 450.1,402.2 450.6,402.6 451.0,402.6 451.5,402.6 452.0,402.8 452.4,403.1 452.9,403.4 453.4,403.7 453.8,404.2 454.3,404.6 454.8,404.9 455.3,405.2 455.7,405.6 456.2,405.6 456.7,405.4 457.1,405.9 457.6,406.5 458.1,407.0 458.5,407.2 459.0,407.3 459.5,407.6 459.9,408.0 460.4,408.2 460.9,408.3 461.4,408.6 461.8,409.0 462.3,409.1 462.8,409.3 463.2,409.7 463.7,410.1 464.2,410.5 464.6,410.9 465.1,411.3 465.6,411.4 466.0,411.4 466.5,411.4 467.0,411.8 467.5,412.3 467.9,412.7 468.4,412.8 468.9,412.6 469.3,412.7 469.8,413.2 470.3,413.5 470.7,413.7 471.2,413.9 471.7,414.1 472.1,414.2 472.6,414.2 473.1,414.5 473.6,414.7 474.0,415.0 474.5,415.4 475.0,415.5 475.4,415.3 475.9,415.2 476.4,415.6 476.8,415.9 477.3,415.9 477.8,415.8 478.2,415.9 478.7,416.2 479.2,416.6 479.7,417.0 480.1,417.1 480.6,417.1 481.1,417.2 481.5,417.4 482.0,417.4 482.5,417.7 482.9,418.1 483.4,418.2 483.9,418.1 484.3,418.0 484.8,417.9 485.3,417.9 485.7,418.3 486.2,418.9 486.7,419.2 487.2,419.2 487.6,419.0 488.1,418.8 488.6,418.7 489.0,418.9 489.5,419.0 490.0,419.1 490.4,419.1 490.9,418.9 491.4,418.7 491.8,418.7 492.3,418.8 492.8,419.1 493.3,419.6 493.7,419.7 494.2,419.9 494.7,420.1 495.1,420.2 495.6,420.1 496.1,420.2 496.5,420.2 497.0,420.1 497.5,419.9 497.9,419.8 498.4,419.8 498.9,420.1 499.4,420.2 499.8,420.3 500.3,420.4 500.8,420.7 501.2,420.9 501.7,420.9 502.2,420.8 502.6,420.5 503.1,420.4 503.6,420.5 504.0,420.5 504.5,420.6 505.0,420.8 505.5,420.7 505.9,420.6 506.4,420.9 506.9,421.1 507.3,421.1 507.8,421.0 508.3,420.8 508.7,420.6 509.2,420.6 509.7,420.9 510.1,421.1 510.6,421.0 511.1,421.0 511.6,420.9 512.0,420.9 512.5,421.1 513.0,421.1 513.4,420.9 513.9,420.7 514.4,420.8 514.8,421.1 515.3,421.4 515.8,421.2 516.2,421.0 516.7,420.7 517.2,420.7 517.7,420.8 518.1,421.1 518.6,421.2 519.1,421.1 519.5,421.0 520.0,421.1 520.5,421.1 520.9,420.9 521.4,420.7 521.9,420.8 522.3,420.9 522.8,421.0 523.3,421.2 523.7,421.2 524.2,421.2 524.7,421.3 525.2,421.6 525.6,421.6 526.1,421.3 526.6,421.1 527.0,421.1 527.5,421.3 528.0,421.3 528.4,421.2 528.9,421.1 529.4,420.9 529.8,420.8 530.3,421.0 530.8,421.4 531.3,421.5 531.7,421.3 532.2,421.2 532.7,421.2 533.1,421.0 533.6,421.3 534.1,421.6 534.5,421.5 535.0,421.4 535.5,421.3 535.9,421.2 536.4,421.3 536.9,421.5 537.4,421.5 537.8,421.4 538.3,421.3 538.8,421.4 539.2,421.6 539.7,421.8" fill="none" stroke="#555" stroke-width="1.0" stroke-linejoin="round"/>
<polyline points="305.6,422.3 306.1,422.3 306.5,422.2 307.0,422.2 307.5,422.2 307.9,422.2 308.4,422.2 308.9,422.2 309.4,422.2 309.8,422.2 310.3,422.2 310.8,422.2 311.2,422.2 311.7,422.2 312.2,422.2 312.6,422.2 313.1,422.2 313.6,422.2 314.0,422.2 314.5,422.2 315.0,422.2 315.5,422.2 315.9,422.1 316.4,422.1 316.9,422.1 317.3,422.1 317.8,422.1 318.3,422.1 318.7,422.1 319.2,422.1 319.7,422.1 320.1,422.1 320.6,422.1 321.1,422.1 321.6,422.1 322.0,422.1 322.5,422.0 323.0,422.0 323.4,422.0 323.9,422.0 324.4,422.0 324.8,422.0 325.3,422.0 325.8,422.0 326.2,422.0 326.7,422.0 327.2,421.9 327.6,421.9 328.1,421.9 328.6,421.9 329.1,421.9 329.5,421.9 330.0,421.9 330.5,421.8 330.9,421.8 331.4,421.8 331.9,421.8 332.3,421.8 332.8,421.7 333.3,421.7 333.7,421.7 334.2,421.7 334.7,421.6 335.2,421.6 335.6,421.6 336.1,421.6 336.6,421.5 337.0,421.5 337.5,421.4 338.0,421.4 338.4,421.3 338.9,421.3 339.4,421.2 339.8,421.2 340.3,421.1 340.8,421.0 341.3,421.0 341.7,420.9 342.2,420.8 342.7,420.7 343.1,420.6 343.6,420.5 344.1,420.4 344.5,420.2 345.0,420.1 345.5,419.9 345.9,419.8 346.4,419.6 346.9,419.4 347.4,419.2 347.8,418.9 348.3,418.7 348.8,418.4 349.2,418.2 349.7,417.8 350.2,417.5 350.6,417.2 351.1,416.8 351.6,416.4 352.0,416.0 352.5,415.5 353.0,415.0 353.5,414.5 353.9,413.9 354.4,413.4 354.9,412.7 355.3,412.1 355.8,411.4 356.3,410.7 356.7,409.9 357.2,409.1 357.7,408.3 358.1,407.4 358.6,406.4 359.1,405.5 359.6,404.5 360.0,403.4 360.5,402.3 361.0,401.2 361.4,400.1 361.9,398.8 362.4,397.6 362.8,396.3 363.3,395.0 363.8,393.7 364.2,392.3 364.7,390.9 365.2,389.5 365.6,388.0 366.1,386.6 366.6,385.1 367.1,383.6 367.5,382.1 368.0,380.6 368.5,379.1 368.9,377.6 369.4,376.1 369.9,374.6 370.3,373.1 370.8,371.6 371.3,370.2 371.7,368.8 372.2,367.4 372.7,366.1 373.2,364.8 373.6,363.5 374.1,362.3 374.6,361.2 375.0,360.1 375.5,359.1 376.0,358.1 376.4,357.3 376.9,356.5 377.4,355.7 377.8,355.1 378.3,354.5 378.8,354.0 379.3,353.6 379.7,353.3 380.2,353.1 380.7,353.0 381.1,352.9 381.6,352.9 382.1,353.0 382.5,353.2 383.0,353.5 383.5,353.9 383.9,354.3 384.4,354.8 384.9,355.4 385.4,356.0 385.8,356.7 386.3,357.4 386.8,358.2 387.2,359.1 387.7,360.0 388.2,360.9 388.6,361.9 389.1,362.9 389.6,363.9 390.0,365.0 390.5,366.0 391.0,367.1 391.5,368.2 391.9,369.3 392.4,370.4 392.9,371.5 393.3,372.5 393.8,373.6 394.3,374.7 394.7,375.7 395.2,376.7 395.7,377.7 396.1,378.7 396.6,379.6 397.1,380.5 397.6,381.4 398.0,382.3 398.5,383.1 399.0,383.9 399.4,384.6 399.9,385.3 400.4,386.0 400.8,386.6 401.3,387.2 401.8,387.8 402.2,388.3 402.7,388.8 403.2,389.3 403.6,389.7 404.1,390.1 404.6,390.4 405.1,390.7 405.5,391.0 406.0,391.3 406.5,391.5 406.9,391.7 407.4,391.9 407.9,392.1 408.3,392.2 408.8,392.3 409.3,392.4 409.7,392.5 410.2,392.5 410.7,392.6 411.2,392.6 411.6,392.6 412.1,392.6 412.6,392.6 413.0,392.6 413.5,392.6 414.0,392.5 414.4,392.5 414.9,392.4 415.4,392.4 415.8,392.3 416.3,392.3 416.8,392.2 417.3,392.2 417.7,392.1 418.2,392.1 418.7,392.0 419.1,392.0 419.6,392.0 420.1,391.9 420.5,391.9 421.0,391.8 421.5,391.8 421.9,391.8 422.4,391.8 422.9,391.8 423.4,391.8 423.8,391.8 424.3,391.8 424.8,391.8 425.2,391.9 425.7,391.9 426.2,392.0 426.6,392.0 427.1,392.1 427.6,392.1 428.0,392.2 428.5,392.3 429.0,392.4 429.5,392.5 429.9,392.6 430.4,392.7 430.9,392.9 431.3,393.0 431.8,393.1 432.3,393.3 432.7,393.4 433.2,393.6 433.7,393.8 434.1,394.0 434.6,394.1 435.1,394.3 435.6,394.5 436.0,394.7 436.5,394.9 437.0,395.2 437.4,395.4 437.9,395.6 438.4,395.8 438.8,396.1 439.3,396.3 439.8,396.6 440.2,396.8 440.7,397.1 441.2,397.3 441.7,397.6 442.1,397.9 442.6,398.2 443.1,398.4 443.5,398.7 444.0,399.0 444.5,399.3 444.9,399.6 445.4,399.8 445.9,400.1 446.3,400.4 446.8,400.7 447.3,401.0 447.7,401.3 448.2,401.6 448.7,401.9 449.2,402.2 449.6,402.5 450.1,402.8 450.6,403.1 451.0,403.4 451.5,403.7 452.0,404.0 452.4,404.3 452.9,404.6 453.4,404.9 453.8,405.2 454.3,405.5 454.8,405.8 455.3,406.1 455.7,406.4 456.2,406.7 456.7,407.0 457.1,407.3 457.6,407.6 458.1,407.9 458.5,408.2 459.0,408.4 459.5,408.7 459.9,409.0 460.4,409.3 460.9,409.6 461.4,409.8 461.8,410.1 462.3,410.4 462.8,410.6 463.2,410.9 463.7,411.1 464.2,411.4 464.6,411.6 465.1,411.9 465.6,412.1 466.0,412.4 466.5,412.6 467.0,412.8 467.5,413.1 467.9,413.3 468.4,413.5 468.9,413.7 469.3,413.9 469.8,414.1 470.3,414.4 470.7,414.6 471.2,414.8 471.7,415.0 472.1,415.2 472.6,415.3 473.1,415.5 473.6,415.7 474.0,415.9 474.5,416.1 475.0,416.2 475.4,416.4 475.9,416.6 476.4,416.7 476.8,416.9 477.3,417.1 477.8,417.2 478.2,417.4 478.7,417.5 479.2,417.6 479.7,417.8 480.1,417.9 480.6,418.0 481.1,418.2 481.5,418.3 482.0,418.4 482.5,418.5 482.9,418.7 483.4,418.8 483.9,418.9 484.3,419.0 484.8,419.1 485.3,419.2 485.7,419.3 486.2,419.4 486.7,419.5 487.2,419.6 487.6,419.7 488.1,419.8 488.6,419.8 489.0,419.9 489.5,420.0 490.0,420.1 490.4,420.2 490.9,420.2 491.4,420.3 491.8,420.4 492.3,420.4 492.8,420.5 493.3,420.6 493.7,420.6 494.2,420.7 494.7,420.7 495.1,420.8 495.6,420.8 496.1,420.9 496.5,420.9 497.0,421.0 497.5,421.0 497.9,421.1 498.4,421.1 498.9,421.2 499.4,421.2 499.8,421.2 500.3,421.3 500.8,421.3 501.2,421.4 501.7,421.4 502.2,421.4 502.6,421.5 503.1,421.5 503.6,421.5 504.0,421.5 504.5,421.6 505.0,421.6 505.5,421.6 505.9,421.6 506.4,421.7 506.9,421.7 507.3,421.7 507.8,421.7 508.3,421.8 508.7,421.8 509.2,421.8 509.7,421.8 510.1,421.8 510.6,421.9 511.1,421.9 511.6,421.9 512.0,421.9 512.5,421.9 513.0,421.9 513.4,422.0 513.9,422.0 514.4,422.0 514.8,422.0 515.3,422.0 515.8,422.0 516.2,422.0 516.7,422.0 517.2,422.0 517.7,422.1 518.1,422.1 518.6,422.1 519.1,422.1 519.5,422.1 520.0,422.1 520.5,422.1 520.9,422.1 521.4,422.1 521.9,422.1 522.3,422.1 522.8,422.2 523.3,422.2 523.7,422.2 524.2,422.2 524.7,422.2 525.2,422.2 525.6,422.2 526.1,422.2 526.6,422.2 527.0,422.2 527.5,422.2 528.0,422.2 528.4,422.2 528.9,422.2 529.4,422.2 529.8,422.2 530.3,422.2 530.8,422.3 531.3,422.3 531.7,422.3 532.2,422.3 532.7,422.3 533.1,422.3 533.6,422.3 534.1,422.3 534.5,422.3 535.0,422.3 535.5,422.3 535.9,422.3 536.4,422.3 536.9,422.3 537.4,422.3 537.8,422.3 538.3,422.3 538.8,422.3 539.2,422.3 539.7,422.3" fill="none" stroke="#ee2828" stroke-width="1.8" stroke-linejoin="round"/>
<polyline points="305.6,422.6 306.1,422.6 306.5,422.6 307.0,422.6 307.5,422.6 307.9,422.6 308.4,422.6 308.9,422.6 309.4,422.6 309.8,422.6 310.3,422.6 310.8,422.6 311.2,422.6 311.7,422.6 312.2,422.6 312.6,422.6 313.1,422.6 313.6,422.6 314.0,422.6 314.5,422.6 315.0,422.6 315.5,422.6 315.9,422.6 316.4,422.6 316.9,422.5 317.3,422.5 317.8,422.5 318.3,422.5 318.7,422.5 319.2,422.5 319.7,422.5 320.1,422.5 320.6,422.5 321.1,422.5 321.6,422.5 322.0,422.5 322.5,422.5 323.0,422.5 323.4,422.5 323.9,422.5 324.4,422.5 324.8,422.5 325.3,422.5 325.8,422.5 326.2,422.5 326.7,422.5 327.2,422.5 327.6,422.5 328.1,422.5 328.6,422.5 329.1,422.5 329.5,422.5 330.0,422.5 330.5,422.4 330.9,422.4 331.4,422.4 331.9,422.4 332.3,422.4 332.8,422.4 333.3,422.4 333.7,422.4 334.2,422.4 334.7,422.4 335.2,422.3 335.6,422.3 336.1,422.3 336.6,422.3 337.0,422.3 337.5,422.2 338.0,422.2 338.4,422.2 338.9,422.1 339.4,422.1 339.8,422.1 340.3,422.0 340.8,422.0 341.3,421.9 341.7,421.9 342.2,421.8 342.7,421.7 343.1,421.6 343.6,421.6 344.1,421.5 344.5,421.4 345.0,421.2 345.5,421.1 345.9,421.0 346.4,420.8 346.9,420.7 347.4,420.5 347.8,420.3 348.3,420.1 348.8,419.9 349.2,419.6 349.7,419.4 350.2,419.1 350.6,418.8 351.1,418.4 351.6,418.1 352.0,417.7 352.5,417.3 353.0,416.9 353.5,416.4 353.9,415.9 354.4,415.4 354.9,414.8 355.3,414.2 355.8,413.6 356.3,412.9 356.7,412.2 357.2,411.5 357.7,410.7 358.1,409.9 358.6,409.0 359.1,408.2 359.6,407.2 360.0,406.3 360.5,405.3 361.0,404.2 361.4,403.2 361.9,402.0 362.4,400.9 362.8,399.7 363.3,398.5 363.8,397.3 364.2,396.0 364.7,394.7 365.2,393.4 365.6,392.1 366.1,390.7 366.6,389.4 367.1,388.0 367.5,386.6 368.0,385.2 368.5,383.8 368.9,382.5 369.4,381.1 369.9,379.8 370.3,378.4 370.8,377.1 371.3,375.8 371.7,374.6 372.2,373.4 372.7,372.2 373.2,371.1 373.6,370.0 374.1,369.0 374.6,368.0 375.0,367.1 375.5,366.3 376.0,365.5 376.4,364.8 376.9,364.2 377.4,363.7 377.8,363.2 378.3,362.9 378.8,362.6 379.3,362.4 379.7,362.3 380.2,362.3 380.7,362.4 381.1,362.6 381.6,362.8 382.1,363.2 382.5,363.6 383.0,364.1 383.5,364.7 383.9,365.4 384.4,366.1 384.9,366.9 385.4,367.8 385.8,368.8 386.3,369.8 386.8,370.9 387.2,372.0 387.7,373.2 388.2,374.4 388.6,375.6 389.1,376.9 389.6,378.2 390.0,379.5 390.5,380.9 391.0,382.2 391.5,383.6 391.9,385.0 392.4,386.4 392.9,387.7 393.3,389.1 393.8,390.5 394.3,391.8 394.7,393.2 395.2,394.5 395.7,395.8 396.1,397.1 396.6,398.3 397.1,399.5 397.6,400.7 398.0,401.8 398.5,403.0 399.0,404.0 399.4,405.1 399.9,406.1 400.4,407.1 400.8,408.0 401.3,408.9 401.8,409.7 402.2,410.6 402.7,411.3 403.2,412.1 403.6,412.8 404.1,413.5 404.6,414.1 405.1,414.7 405.5,415.3 406.0,415.8 406.5,416.3 406.9,416.8 407.4,417.2 407.9,417.6 408.3,418.0 408.8,418.4 409.3,418.7 409.7,419.0 410.2,419.3 410.7,419.6 411.2,419.8 411.6,420.1 412.1,420.3 412.6,420.5 413.0,420.6 413.5,420.8 414.0,421.0 414.4,421.1 414.9,421.2 415.4,421.3 415.8,421.4 416.3,421.5 416.8,421.6 417.3,421.7 417.7,421.8 418.2,421.9 418.7,421.9 419.1,422.0 419.6,422.0 420.1,422.1 420.5,422.1 421.0,422.1 421.5,422.2 421.9,422.2 422.4,422.2 422.9,422.3 423.4,422.3 423.8,422.3 424.3,422.3 424.8,422.3 425.2,422.4 425.7,422.4 426.2,422.4 426.6,422.4 427.1,422.4 427.6,422.4 428.0,422.4 428.5,422.4 429.0,422.4 429.5,422.4 429.9,422.4 430.4,422.5 430.9,422.5 431.3,422.5 431.8,422.5 432.3,422.5 432.7,422.5 433.2,422.5 433.7,422.5 434.1,422.5 434.6,422.5 435.1,422.5 435.6,422.5 436.0,422.5 436.5,422.5 437.0,422.5 437.4,422.5 437.9,422.5 438.4,422.5 438.8,422.5 439.3,422.5 439.8,422.5 440.2,422.5 440.7,422.5 441.2,422.5 441.7,422.5 442.1,422.5 442.6,422.5 443.1,422.5 443.5,422.6 444.0,422.6 444.5,422.6 444.9,422.6 445.4,422.6 445.9,422.6 446.3,422.6 446.8,422.6 447.3,422.6 447.7,422.6 448.2,422.6 448.7,422.6 449.2,422.6 449.6,422.6 450.1,422.6 450.6,422.6 451.0,422.6 451.5,422.6 452.0,422.6 452.4,422.6 452.9,422.6 453.4,422.6 453.8,422.6 454.3,422.6 454.8,422.6 455.3,422.6 455.7,422.6 456.2,422.6 456.7,422.6 457.1,422.6 457.6,422.6 458.1,422.6 458.5,422.6 459.0,422.6 459.5,422.6 459.9,422.6 460.4,422.6 460.9,422.6 461.4,422.6 461.8,422.6 462.3,422.6 462.8,422.6 463.2,422.6 463.7,422.6 464.2,422.6 464.6,422.6 465.1,422.6 465.6,422.6 466.0,422.6 466.5,422.6 467.0,422.6 467.5,422.6 467.9,422.6 468.4,422.6 468.9,422.6 469.3,422.6 469.8,422.6 470.3,422.6 470.7,422.6 471.2,422.6 471.7,422.6 472.1,422.6 472.6,422.6 473.1,422.6 473.6,422.6 474.0,422.6 474.5,422.6 475.0,422.6 475.4,422.6 475.9,422.6 476.4,422.6 476.8,422.6 477.3,422.6 477.8,422.6 478.2,422.6 478.7,422.6 479.2,422.6 479.7,422.6 480.1,422.6 480.6,422.6 481.1,422.6 481.5,422.6 482.0,422.6 482.5,422.6 482.9,422.6 483.4,422.6 483.9,422.6 484.3,422.6 484.8,422.6 485.3,422.6 485.7,422.6 486.2,422.6 486.7,422.6 487.2,422.6 487.6,422.6 488.1,422.6 488.6,422.6 489.0,422.6 489.5,422.6 490.0,422.6 490.4,422.6 490.9,422.6 491.4,422.6 491.8,422.7 492.3,422.7 492.8,422.7 493.3,422.7 493.7,422.7 494.2,422.7 494.7,422.7 495.1,422.7 495.6,422.7 496.1,422.7 496.5,422.7 497.0,422.7 497.5,422.7 497.9,422.7 498.4,422.7 498.9,422.7 499.4,422.7 499.8,422.7 500.3,422.7 500.8,422.7 501.2,422.7 501.7,422.7 502.2,422.7 502.6,422.7 503.1,422.7 503.6,422.7 504.0,422.7 504.5,422.7 505.0,422.7 505.5,422.7 505.9,422.7 506.4,422.7 506.9,422.7 507.3,422.7 507.8,422.7 508.3,422.7 508.7,422.7 509.2,422.7 509.7,422.7 510.1,422.7 510.6,422.7 511.1,422.7 511.6,422.7 512.0,422.7 512.5,422.7 513.0,422.7 513.4,422.7 513.9,422.7 514.4,422.7 514.8,422.7 515.3,422.7 515.8,422.7 516.2,422.7 516.7,422.7 517.2,422.7 517.7,422.7 518.1,422.7 518.6,422.7 519.1,422.7 519.5,422.7 520.0,422.7 520.5,422.7 520.9,422.7 521.4,422.7 521.9,422.7 522.3,422.7 522.8,422.7 523.3,422.7 523.7,422.7 524.2,422.7 524.7,422.7 525.2,422.7 525.6,422.7 526.1,422.7 526.6,422.7 527.0,422.7 527.5,422.7 528.0,422.7 528.4,422.7 528.9,422.7 529.4,422.7 529.8,422.7 530.3,422.7 530.8,422.7 531.3,422.7 531.7,422.7 532.2,422.7 532.7,422.7 533.1,422.7 533.6,422.7 534.1,422.7 534.5,422.7 535.0,422.7 535.5,422.7 535.9,422.7 536.4,422.7 536.9,422.7 537.4,422.7 537.8,422.7 538.3,422.7 538.8,422.7 539.2,422.7 539.7,422.7" fill="none" stroke="#14ad66" stroke-width="1.5" stroke-linejoin="round"/>
<polyline points="305.6,422.4 306.1,422.4 306.5,422.4 307.0,422.4 307.5,422.4 307.9,422.4 308.4,422.4 308.9,422.3 309.4,422.3 309.8,422.3 310.3,422.3 310.8,422.3 311.2,422.3 311.7,422.3 312.2,422.3 312.6,422.3 313.1,422.3 313.6,422.3 314.0,422.3 314.5,422.3 315.0,422.3 315.5,422.3 315.9,422.3 316.4,422.3 316.9,422.3 317.3,422.3 317.8,422.3 318.3,422.3 318.7,422.3 319.2,422.3 319.7,422.3 320.1,422.3 320.6,422.3 321.1,422.2 321.6,422.2 322.0,422.2 322.5,422.2 323.0,422.2 323.4,422.2 323.9,422.2 324.4,422.2 324.8,422.2 325.3,422.2 325.8,422.2 326.2,422.2 326.7,422.2 327.2,422.2 327.6,422.2 328.1,422.1 328.6,422.1 329.1,422.1 329.5,422.1 330.0,422.1 330.5,422.1 330.9,422.1 331.4,422.1 331.9,422.1 332.3,422.1 332.8,422.0 333.3,422.0 333.7,422.0 334.2,422.0 334.7,422.0 335.2,422.0 335.6,422.0 336.1,422.0 336.6,421.9 337.0,421.9 337.5,421.9 338.0,421.9 338.4,421.9 338.9,421.9 339.4,421.8 339.8,421.8 340.3,421.8 340.8,421.8 341.3,421.7 341.7,421.7 342.2,421.7 342.7,421.7 343.1,421.7 343.6,421.6 344.1,421.6 344.5,421.6 345.0,421.5 345.5,421.5 345.9,421.5 346.4,421.5 346.9,421.4 347.4,421.4 347.8,421.3 348.3,421.3 348.8,421.3 349.2,421.2 349.7,421.2 350.2,421.1 350.6,421.1 351.1,421.1 351.6,421.0 352.0,421.0 352.5,420.9 353.0,420.9 353.5,420.8 353.9,420.8 354.4,420.7 354.9,420.6 355.3,420.6 355.8,420.5 356.3,420.5 356.7,420.4 357.2,420.3 357.7,420.2 358.1,420.2 358.6,420.1 359.1,420.0 359.6,419.9 360.0,419.9 360.5,419.8 361.0,419.7 361.4,419.6 361.9,419.5 362.4,419.4 362.8,419.3 363.3,419.2 363.8,419.1 364.2,419.0 364.7,418.9 365.2,418.8 365.6,418.7 366.1,418.6 366.6,418.4 367.1,418.3 367.5,418.2 368.0,418.1 368.5,417.9 368.9,417.8 369.4,417.6 369.9,417.5 370.3,417.4 370.8,417.2 371.3,417.1 371.7,416.9 372.2,416.7 372.7,416.6 373.2,416.4 373.6,416.2 374.1,416.1 374.6,415.9 375.0,415.7 375.5,415.5 376.0,415.3 376.4,415.2 376.9,415.0 377.4,414.8 377.8,414.6 378.3,414.4 378.8,414.1 379.3,413.9 379.7,413.7 380.2,413.5 380.7,413.3 381.1,413.0 381.6,412.8 382.1,412.6 382.5,412.3 383.0,412.1 383.5,411.9 383.9,411.6 384.4,411.4 384.9,411.1 385.4,410.9 385.8,410.6 386.3,410.3 386.8,410.1 387.2,409.8 387.7,409.5 388.2,409.3 388.6,409.0 389.1,408.7 389.6,408.4 390.0,408.2 390.5,407.9 391.0,407.6 391.5,407.3 391.9,407.0 392.4,406.7 392.9,406.4 393.3,406.1 393.8,405.8 394.3,405.5 394.7,405.2 395.2,404.9 395.7,404.6 396.1,404.3 396.6,404.0 397.1,403.7 397.6,403.4 398.0,403.1 398.5,402.8 399.0,402.5 399.4,402.2 399.9,401.9 400.4,401.6 400.8,401.3 401.3,401.0 401.8,400.7 402.2,400.5 402.7,400.2 403.2,399.9 403.6,399.6 404.1,399.3 404.6,399.0 405.1,398.7 405.5,398.5 406.0,398.2 406.5,397.9 406.9,397.7 407.4,397.4 407.9,397.1 408.3,396.9 408.8,396.6 409.3,396.4 409.7,396.2 410.2,395.9 410.7,395.7 411.2,395.5 411.6,395.3 412.1,395.1 412.6,394.8 413.0,394.6 413.5,394.5 414.0,394.3 414.4,394.1 414.9,393.9 415.4,393.8 415.8,393.6 416.3,393.5 416.8,393.3 417.3,393.2 417.7,393.1 418.2,392.9 418.7,392.8 419.1,392.7 419.6,392.6 420.1,392.6 420.5,392.5 421.0,392.4 421.5,392.4 421.9,392.3 422.4,392.3 422.9,392.2 423.4,392.2 423.8,392.2 424.3,392.2 424.8,392.2 425.2,392.2 425.7,392.2 426.2,392.3 426.6,392.3 427.1,392.4 427.6,392.4 428.0,392.5 428.5,392.6 429.0,392.7 429.5,392.8 429.9,392.9 430.4,393.0 430.9,393.1 431.3,393.2 431.8,393.4 432.3,393.5 432.7,393.7 433.2,393.8 433.7,394.0 434.1,394.2 434.6,394.3 435.1,394.5 435.6,394.7 436.0,394.9 436.5,395.1 437.0,395.3 437.4,395.6 437.9,395.8 438.4,396.0 438.8,396.3 439.3,396.5 439.8,396.7 440.2,397.0 440.7,397.2 441.2,397.5 441.7,397.8 442.1,398.0 442.6,398.3 443.1,398.6 443.5,398.9 444.0,399.1 444.5,399.4 444.9,399.7 445.4,400.0 445.9,400.3 446.3,400.6 446.8,400.9 447.3,401.2 447.7,401.5 448.2,401.8 448.7,402.0 449.2,402.3 449.6,402.6 450.1,402.9 450.6,403.3 451.0,403.6 451.5,403.9 452.0,404.2 452.4,404.5 452.9,404.8 453.4,405.1 453.8,405.4 454.3,405.6 454.8,405.9 455.3,406.2 455.7,406.5 456.2,406.8 456.7,407.1 457.1,407.4 457.6,407.7 458.1,408.0 458.5,408.3 459.0,408.5 459.5,408.8 459.9,409.1 460.4,409.4 460.9,409.6 461.4,409.9 461.8,410.2 462.3,410.4 462.8,410.7 463.2,411.0 463.7,411.2 464.2,411.5 464.6,411.7 465.1,412.0 465.6,412.2 466.0,412.4 466.5,412.7 467.0,412.9 467.5,413.1 467.9,413.4 468.4,413.6 468.9,413.8 469.3,414.0 469.8,414.2 470.3,414.4 470.7,414.6 471.2,414.8 471.7,415.0 472.1,415.2 472.6,415.4 473.1,415.6 473.6,415.8 474.0,416.0 474.5,416.1 475.0,416.3 475.4,416.5 475.9,416.6 476.4,416.8 476.8,417.0 477.3,417.1 477.8,417.3 478.2,417.4 478.7,417.6 479.2,417.7 479.7,417.8 480.1,418.0 480.6,418.1 481.1,418.2 481.5,418.4 482.0,418.5 482.5,418.6 482.9,418.7 483.4,418.8 483.9,418.9 484.3,419.0 484.8,419.2 485.3,419.3 485.7,419.4 486.2,419.4 486.7,419.5 487.2,419.6 487.6,419.7 488.1,419.8 488.6,419.9 489.0,420.0 489.5,420.1 490.0,420.1 490.4,420.2 490.9,420.3 491.4,420.3 491.8,420.4 492.3,420.5 492.8,420.5 493.3,420.6 493.7,420.7 494.2,420.7 494.7,420.8 495.1,420.8 495.6,420.9 496.1,420.9 496.5,421.0 497.0,421.0 497.5,421.1 497.9,421.1 498.4,421.2 498.9,421.2 499.4,421.2 499.8,421.3 500.3,421.3 500.8,421.4 501.2,421.4 501.7,421.4 502.2,421.5 502.6,421.5 503.1,421.5 503.6,421.6 504.0,421.6 504.5,421.6 505.0,421.6 505.5,421.7 505.9,421.7 506.4,421.7 506.9,421.7 507.3,421.8 507.8,421.8 508.3,421.8 508.7,421.8 509.2,421.8 509.7,421.9 510.1,421.9 510.6,421.9 511.1,421.9 511.6,421.9 512.0,421.9 512.5,422.0 513.0,422.0 513.4,422.0 513.9,422.0 514.4,422.0 514.8,422.0 515.3,422.0 515.8,422.0 516.2,422.1 516.7,422.1 517.2,422.1 517.7,422.1 518.1,422.1 518.6,422.1 519.1,422.1 519.5,422.1 520.0,422.1 520.5,422.1 520.9,422.2 521.4,422.2 521.9,422.2 522.3,422.2 522.8,422.2 523.3,422.2 523.7,422.2 524.2,422.2 524.7,422.2 525.2,422.2 525.6,422.2 526.1,422.2 526.6,422.2 527.0,422.2 527.5,422.2 528.0,422.3 528.4,422.3 528.9,422.3 529.4,422.3 529.8,422.3 530.3,422.3 530.8,422.3 531.3,422.3 531.7,422.3 532.2,422.3 532.7,422.3 533.1,422.3 533.6,422.3 534.1,422.3 534.5,422.3 535.0,422.3 535.5,422.3 535.9,422.3 536.4,422.3 536.9,422.3 537.4,422.3 537.8,422.3 538.3,422.3 538.8,422.3 539.2,422.3 539.7,422.3" fill="none" stroke="#c264e6" stroke-width="1.5" stroke-linejoin="round"/>
<rect x="305.0" y="251.6" width="235.20000000000005" height="189.9" fill="none" stroke="#2e2e2e" stroke-width="1.1"/>
<line x1="305.00" y1="441.5" x2="305.00" y2="445.0" stroke="#2e2e2e" stroke-width="1.0"/>
<text x="305.00" y="453.9" font-size="8.4" text-anchor="middle" fill="#222" stroke="#222" textLength="12.61" lengthAdjust="spacingAndGlyphs">526</text>
<line x1="328.52" y1="441.5" x2="328.52" y2="443.5" stroke="#2e2e2e" stroke-width="1.0"/>
<line x1="352.04" y1="441.5" x2="352.04" y2="445.0" stroke="#2e2e2e" stroke-width="1.0"/>
<text x="352.04" y="453.9" font-size="8.4" text-anchor="middle" fill="#222" stroke="#222" textLength="12.61" lengthAdjust="spacingAndGlyphs">528</text>
<line x1="375.56" y1="441.5" x2="375.56" y2="443.5" stroke="#2e2e2e" stroke-width="1.0"/>
<line x1="399.08" y1="441.5" x2="399.08" y2="445.0" stroke="#2e2e2e" stroke-width="1.0"/>
<text x="399.08" y="453.9" font-size="8.4" text-anchor="middle" fill="#222" stroke="#222" textLength="12.61" lengthAdjust="spacingAndGlyphs">530</text>
<line x1="422.60" y1="441.5" x2="422.60" y2="443.5" stroke="#2e2e2e" stroke-width="1.0"/>
<line x1="446.12" y1="441.5" x2="446.12" y2="445.0" stroke="#2e2e2e" stroke-width="1.0"/>
<text x="446.12" y="453.9" font-size="8.4" text-anchor="middle" fill="#222" stroke="#222" textLength="12.61" lengthAdjust="spacingAndGlyphs">532</text>
<line x1="469.64" y1="441.5" x2="469.64" y2="443.5" stroke="#2e2e2e" stroke-width="1.0"/>
<line x1="493.16" y1="441.5" x2="493.16" y2="445.0" stroke="#2e2e2e" stroke-width="1.0"/>
<text x="493.16" y="453.9" font-size="8.4" text-anchor="middle" fill="#222" stroke="#222" textLength="12.61" lengthAdjust="spacingAndGlyphs">534</text>
<line x1="516.68" y1="441.5" x2="516.68" y2="443.5" stroke="#2e2e2e" stroke-width="1.0"/>
<line x1="540.20" y1="441.5" x2="540.20" y2="445.0" stroke="#2e2e2e" stroke-width="1.0"/>
<text x="540.20" y="453.9" font-size="8.4" text-anchor="middle" fill="#222" stroke="#222" textLength="12.61" lengthAdjust="spacingAndGlyphs">536</text>
<text x="378.71" y="469.4" font-size="9.86" fill="#222" stroke="#222">Binding energy (eV)</text>
<text transform="translate(296.6,345.5) rotate(-90)" font-size="10" text-anchor="middle" fill="#222" stroke="#222">Intensity (a.u.)</text>
<text x="279.30" y="251.2" font-size="17.50" fill="#111" stroke="#111">d</text>
<text x="515.62" y="262.2" font-size="10.74" fill="#222" stroke="#222">O 1s</text>
<text x="398.77" y="290.5" font-size="9.67" fill="#222" stroke="#222">Oxygen vacancy</text>
<text x="420.86" y="316.9" font-size="8.62" fill="#222" stroke="#222">531.4</text>
<text x="345.30" y="347.3" font-size="9.98" fill="#222" stroke="#222">Lattice Oxygen</text>
<text x="342.65" y="368.4" font-size="8.71" fill="#222" stroke="#222">529.2</text>
<text x="417.16" y="384.8" font-size="9.75" fill="#222" stroke="#222">Oxygen<tspan font-size="6.63" dy="2.92">ads</tspan></text>
<text x="412.65" y="408.7" font-size="8.74" fill="#222" stroke="#222">531.1</text>
</svg>
</body></html>
